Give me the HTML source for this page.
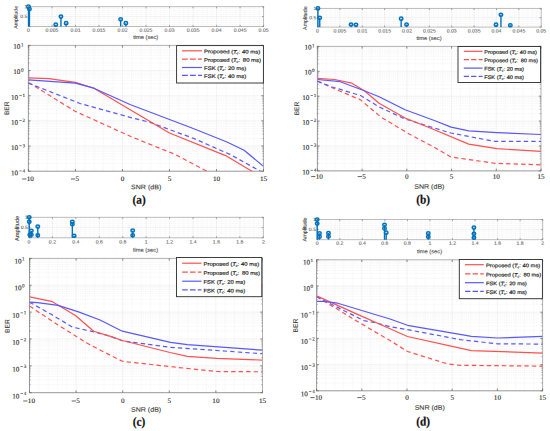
<!DOCTYPE html>
<html><head><meta charset="utf-8"><style>
html,body{margin:0;padding:0;background:#fff;width:550px;height:431px;overflow:hidden;}
svg{display:block;}
</style></head><body>
<svg width="550" height="431" viewBox="0 0 550 431">
<rect width="550" height="431" fill="#fff"/>
<path d="M33.2 6.7L33.2 26.5M37.9 6.7L37.9 26.5M42.61 6.7L42.61 26.5M47.31 6.7L47.31 26.5M56.71 6.7L56.71 26.5M61.41 6.7L61.41 26.5M66.12 6.7L66.12 26.5M70.82 6.7L70.82 26.5M80.22 6.7L80.22 26.5M84.92 6.7L84.92 26.5M89.63 6.7L89.63 26.5M94.33 6.7L94.33 26.5M103.73 6.7L103.73 26.5M108.43 6.7L108.43 26.5M113.14 6.7L113.14 26.5M117.84 6.7L117.84 26.5M127.24 6.7L127.24 26.5M131.94 6.7L131.94 26.5M136.65 6.7L136.65 26.5M141.35 6.7L141.35 26.5M150.75 6.7L150.75 26.5M155.45 6.7L155.45 26.5M160.16 6.7L160.16 26.5M164.86 6.7L164.86 26.5M174.26 6.7L174.26 26.5M178.96 6.7L178.96 26.5M183.67 6.7L183.67 26.5M188.37 6.7L188.37 26.5M197.77 6.7L197.77 26.5M202.47 6.7L202.47 26.5M207.18 6.7L207.18 26.5M211.88 6.7L211.88 26.5M221.28 6.7L221.28 26.5M225.98 6.7L225.98 26.5M230.69 6.7L230.69 26.5M235.39 6.7L235.39 26.5M244.79 6.7L244.79 26.5M249.49 6.7L249.49 26.5M254.2 6.7L254.2 26.5M258.9 6.7L258.9 26.5M28.5 24.52L263.6 24.52M28.5 22.54L263.6 22.54M28.5 20.56L263.6 20.56M28.5 18.58L263.6 18.58M28.5 14.62L263.6 14.62M28.5 12.64L263.6 12.64M28.5 10.66L263.6 10.66M28.5 8.68L263.6 8.68" stroke="#f0f0f0" stroke-width="0.5" fill="none" stroke-dasharray="1.2 0.6"/>
<path d="M52.01 6.7L52.01 26.5M75.52 6.7L75.52 26.5M99.03 6.7L99.03 26.5M122.54 6.7L122.54 26.5M146.05 6.7L146.05 26.5M169.56 6.7L169.56 26.5M193.07 6.7L193.07 26.5M216.58 6.7L216.58 26.5M240.09 6.7L240.09 26.5M28.5 16.6L263.6 16.6" stroke="#e8e8e8" stroke-width="0.6" fill="none" />
<rect x="28.5" y="6.7" width="235.1" height="19.8" fill="none" stroke="#b4b4b4" stroke-width="0.9"/>
<path d="M28.5 26.5L28.5 24.9M28.5 6.7L28.5 8.3M52.01 26.5L52.01 24.9M52.01 6.7L52.01 8.3M75.52 26.5L75.52 24.9M75.52 6.7L75.52 8.3M99.03 26.5L99.03 24.9M99.03 6.7L99.03 8.3M122.54 26.5L122.54 24.9M122.54 6.7L122.54 8.3M146.05 26.5L146.05 24.9M146.05 6.7L146.05 8.3M169.56 26.5L169.56 24.9M169.56 6.7L169.56 8.3M193.07 26.5L193.07 24.9M193.07 6.7L193.07 8.3M216.58 26.5L216.58 24.9M216.58 6.7L216.58 8.3M240.09 26.5L240.09 24.9M240.09 6.7L240.09 8.3M263.6 26.5L263.6 24.9M263.6 6.7L263.6 8.3M28.5 26.5L30.1 26.5M263.6 26.5L262 26.5M28.5 16.6L30.1 16.6M263.6 16.6L262 16.6M28.5 6.7L30.1 6.7M263.6 6.7L262 6.7" stroke="#888" stroke-width="0.8" fill="none" />
<text transform="translate(28.5 31.7) rotate(0.2) scale(1.070 1)" font-family="&quot;Liberation Sans&quot;, sans-serif" font-size="4.8" text-anchor="middle" fill="#505050"  stroke="#505050" stroke-width="0.055999999999999994">0</text>
<text transform="translate(52.01 31.7) rotate(0.2) scale(1.070 1)" font-family="&quot;Liberation Sans&quot;, sans-serif" font-size="4.8" text-anchor="middle" fill="#505050"  stroke="#505050" stroke-width="0.055999999999999994">0.005</text>
<text transform="translate(75.52 31.7) rotate(0.2) scale(1.070 1)" font-family="&quot;Liberation Sans&quot;, sans-serif" font-size="4.8" text-anchor="middle" fill="#505050"  stroke="#505050" stroke-width="0.055999999999999994">0.01</text>
<text transform="translate(99.03 31.7) rotate(0.2) scale(1.070 1)" font-family="&quot;Liberation Sans&quot;, sans-serif" font-size="4.8" text-anchor="middle" fill="#505050"  stroke="#505050" stroke-width="0.055999999999999994">0.015</text>
<text transform="translate(122.54 31.7) rotate(0.2) scale(1.070 1)" font-family="&quot;Liberation Sans&quot;, sans-serif" font-size="4.8" text-anchor="middle" fill="#505050"  stroke="#505050" stroke-width="0.055999999999999994">0.02</text>
<text transform="translate(146.05 31.7) rotate(0.2) scale(1.070 1)" font-family="&quot;Liberation Sans&quot;, sans-serif" font-size="4.8" text-anchor="middle" fill="#505050"  stroke="#505050" stroke-width="0.055999999999999994">0.025</text>
<text transform="translate(169.56 31.7) rotate(0.2) scale(1.070 1)" font-family="&quot;Liberation Sans&quot;, sans-serif" font-size="4.8" text-anchor="middle" fill="#505050"  stroke="#505050" stroke-width="0.055999999999999994">0.03</text>
<text transform="translate(193.07 31.7) rotate(0.2) scale(1.070 1)" font-family="&quot;Liberation Sans&quot;, sans-serif" font-size="4.8" text-anchor="middle" fill="#505050"  stroke="#505050" stroke-width="0.055999999999999994">0.035</text>
<text transform="translate(216.58 31.7) rotate(0.2) scale(1.070 1)" font-family="&quot;Liberation Sans&quot;, sans-serif" font-size="4.8" text-anchor="middle" fill="#505050"  stroke="#505050" stroke-width="0.055999999999999994">0.04</text>
<text transform="translate(240.09 31.7) rotate(0.2) scale(1.070 1)" font-family="&quot;Liberation Sans&quot;, sans-serif" font-size="4.8" text-anchor="middle" fill="#505050"  stroke="#505050" stroke-width="0.055999999999999994">0.045</text>
<text transform="translate(263.6 31.7) rotate(0.2) scale(1.070 1)" font-family="&quot;Liberation Sans&quot;, sans-serif" font-size="4.8" text-anchor="middle" fill="#505050"  stroke="#505050" stroke-width="0.055999999999999994">0.05</text>
<text transform="translate(27.3 18.1) rotate(0.2) scale(1.070 1)" font-family="&quot;Liberation Sans&quot;, sans-serif" font-size="4.8" text-anchor="end" fill="#505050"  stroke="#505050" stroke-width="0.055999999999999994">0.5</text>
<text transform="translate(27.3 8.2) rotate(0.2) scale(1.070 1)" font-family="&quot;Liberation Sans&quot;, sans-serif" font-size="4.8" text-anchor="end" fill="#505050"  stroke="#505050" stroke-width="0.055999999999999994">1</text>
<text transform="translate(145.7 39) rotate(0.2) scale(1.040 1)" font-family="&quot;Liberation Sans&quot;, sans-serif" font-size="5.5" text-anchor="middle" fill="#3a3a3a"  stroke="#3a3a3a" stroke-width="0.08">time (sec)</text>
<text transform="translate(17.6 17.3) rotate(-89.8)" font-family="&quot;Liberation Sans&quot;, sans-serif" font-size="5.1" text-anchor="middle" fill="#3a3a3a"  stroke="#3a3a3a" stroke-width="0.08">Amplitude</text>
<line x1="28.5" y1="26.5" x2="28.5" y2="6.7" stroke="#0072bd" stroke-width="1.4" />
<line x1="29.44" y1="26.5" x2="29.44" y2="9.08" stroke="#0072bd" stroke-width="1.4" />
<line x1="55.77" y1="26.5" x2="55.77" y2="24.72" stroke="#0072bd" stroke-width="1.4" />
<line x1="60.94" y1="26.5" x2="60.94" y2="16.6" stroke="#0072bd" stroke-width="1.4" />
<line x1="66.12" y1="26.5" x2="66.12" y2="23.13" stroke="#0072bd" stroke-width="1.4" />
<line x1="120.66" y1="26.5" x2="120.66" y2="19.37" stroke="#0072bd" stroke-width="1.4" />
<line x1="125.83" y1="26.5" x2="125.83" y2="23.13" stroke="#0072bd" stroke-width="1.4" />
<ellipse cx="28.5" cy="6.7" rx="1.75" ry="1.6" fill="none" stroke="#0072bd" stroke-width="1.5"/>
<ellipse cx="29.44" cy="9.08" rx="1.75" ry="1.6" fill="none" stroke="#0072bd" stroke-width="1.5"/>
<ellipse cx="55.77" cy="24.72" rx="1.75" ry="1.6" fill="none" stroke="#0072bd" stroke-width="1.5"/>
<ellipse cx="60.94" cy="16.6" rx="1.75" ry="1.6" fill="none" stroke="#0072bd" stroke-width="1.5"/>
<ellipse cx="66.12" cy="23.13" rx="1.75" ry="1.6" fill="none" stroke="#0072bd" stroke-width="1.5"/>
<ellipse cx="120.66" cy="19.37" rx="1.75" ry="1.6" fill="none" stroke="#0072bd" stroke-width="1.5"/>
<ellipse cx="125.83" cy="23.13" rx="1.75" ry="1.6" fill="none" stroke="#0072bd" stroke-width="1.5"/>
<path d="M37.8 45.4L37.8 171.2M47.21 45.4L47.21 171.2M56.61 45.4L56.61 171.2M66.02 45.4L66.02 171.2M84.82 45.4L84.82 171.2M94.23 45.4L94.23 171.2M103.63 45.4L103.63 171.2M113.04 45.4L113.04 171.2M131.84 45.4L131.84 171.2M141.25 45.4L141.25 171.2M150.65 45.4L150.65 171.2M160.06 45.4L160.06 171.2M178.86 45.4L178.86 171.2M188.27 45.4L188.27 171.2M197.67 45.4L197.67 171.2M207.08 45.4L207.08 171.2M225.88 45.4L225.88 171.2M235.29 45.4L235.29 171.2M244.69 45.4L244.69 171.2M254.1 45.4L254.1 171.2M28.4 62.99L263.5 62.99M28.4 58.56L263.5 58.56M28.4 55.41L263.5 55.41M28.4 52.97L263.5 52.97M28.4 50.98L263.5 50.98M28.4 49.3L263.5 49.3M28.4 47.84L263.5 47.84M28.4 46.55L263.5 46.55M28.4 88.15L263.5 88.15M28.4 83.72L263.5 83.72M28.4 80.57L263.5 80.57M28.4 78.13L263.5 78.13M28.4 76.14L263.5 76.14M28.4 74.46L263.5 74.46M28.4 73L263.5 73M28.4 71.71L263.5 71.71M28.4 113.31L263.5 113.31M28.4 108.88L263.5 108.88M28.4 105.73L263.5 105.73M28.4 103.29L263.5 103.29M28.4 101.3L263.5 101.3M28.4 99.62L263.5 99.62M28.4 98.16L263.5 98.16M28.4 96.87L263.5 96.87M28.4 138.47L263.5 138.47M28.4 134.04L263.5 134.04M28.4 130.89L263.5 130.89M28.4 128.45L263.5 128.45M28.4 126.46L263.5 126.46M28.4 124.78L263.5 124.78M28.4 123.32L263.5 123.32M28.4 122.03L263.5 122.03M28.4 163.63L263.5 163.63M28.4 159.2L263.5 159.2M28.4 156.05L263.5 156.05M28.4 153.61L263.5 153.61M28.4 151.62L263.5 151.62M28.4 149.94L263.5 149.94M28.4 148.48L263.5 148.48M28.4 147.19L263.5 147.19" stroke="#eeeeee" stroke-width="0.5" fill="none" stroke-dasharray="1.2 0.6"/>
<path d="M75.42 45.4L75.42 171.2M122.44 45.4L122.44 171.2M169.46 45.4L169.46 171.2M216.48 45.4L216.48 171.2M28.4 70.56L263.5 70.56M28.4 95.72L263.5 95.72M28.4 120.88L263.5 120.88M28.4 146.04L263.5 146.04" stroke="#ebebeb" stroke-width="0.6" fill="none" />
<path d="M28.4 45.4L263.5 45.4M263.5 45.4L263.5 171.2" stroke="#a8a8a8" stroke-width="0.9" fill="none" />
<path d="M27.95 171.2L263.95 171.2M28.4 44.95L28.4 171.2" stroke="#8c8c8c" stroke-width="0.9" fill="none" />
<path d="M28.4 171.2L28.4 169M28.4 45.4L28.4 47.6M75.42 171.2L75.42 169M75.42 45.4L75.42 47.6M122.44 171.2L122.44 169M122.44 45.4L122.44 47.6M169.46 171.2L169.46 169M169.46 45.4L169.46 47.6M216.48 171.2L216.48 169M216.48 45.4L216.48 47.6M263.5 171.2L263.5 169M263.5 45.4L263.5 47.6M28.4 45.4L30.6 45.4M263.5 45.4L261.3 45.4M28.4 70.56L30.6 70.56M263.5 70.56L261.3 70.56M28.4 95.72L30.6 95.72M263.5 95.72L261.3 95.72M28.4 120.88L30.6 120.88M263.5 120.88L261.3 120.88M28.4 146.04L30.6 146.04M263.5 146.04L261.3 146.04M28.4 171.2L30.6 171.2M263.5 171.2L261.3 171.2" stroke="#666" stroke-width="0.8" fill="none" />
<path d="M28.4 62.99L29.6 62.99M263.5 62.99L262.3 62.99M28.4 58.56L29.6 58.56M263.5 58.56L262.3 58.56M28.4 55.41L29.6 55.41M263.5 55.41L262.3 55.41M28.4 52.97L29.6 52.97M263.5 52.97L262.3 52.97M28.4 50.98L29.6 50.98M263.5 50.98L262.3 50.98M28.4 49.3L29.6 49.3M263.5 49.3L262.3 49.3M28.4 47.84L29.6 47.84M263.5 47.84L262.3 47.84M28.4 46.55L29.6 46.55M263.5 46.55L262.3 46.55M28.4 88.15L29.6 88.15M263.5 88.15L262.3 88.15M28.4 83.72L29.6 83.72M263.5 83.72L262.3 83.72M28.4 80.57L29.6 80.57M263.5 80.57L262.3 80.57M28.4 78.13L29.6 78.13M263.5 78.13L262.3 78.13M28.4 76.14L29.6 76.14M263.5 76.14L262.3 76.14M28.4 74.46L29.6 74.46M263.5 74.46L262.3 74.46M28.4 73L29.6 73M263.5 73L262.3 73M28.4 71.71L29.6 71.71M263.5 71.71L262.3 71.71M28.4 113.31L29.6 113.31M263.5 113.31L262.3 113.31M28.4 108.88L29.6 108.88M263.5 108.88L262.3 108.88M28.4 105.73L29.6 105.73M263.5 105.73L262.3 105.73M28.4 103.29L29.6 103.29M263.5 103.29L262.3 103.29M28.4 101.3L29.6 101.3M263.5 101.3L262.3 101.3M28.4 99.62L29.6 99.62M263.5 99.62L262.3 99.62M28.4 98.16L29.6 98.16M263.5 98.16L262.3 98.16M28.4 96.87L29.6 96.87M263.5 96.87L262.3 96.87M28.4 138.47L29.6 138.47M263.5 138.47L262.3 138.47M28.4 134.04L29.6 134.04M263.5 134.04L262.3 134.04M28.4 130.89L29.6 130.89M263.5 130.89L262.3 130.89M28.4 128.45L29.6 128.45M263.5 128.45L262.3 128.45M28.4 126.46L29.6 126.46M263.5 126.46L262.3 126.46M28.4 124.78L29.6 124.78M263.5 124.78L262.3 124.78M28.4 123.32L29.6 123.32M263.5 123.32L262.3 123.32M28.4 122.03L29.6 122.03M263.5 122.03L262.3 122.03M28.4 163.63L29.6 163.63M263.5 163.63L262.3 163.63M28.4 159.2L29.6 159.2M263.5 159.2L262.3 159.2M28.4 156.05L29.6 156.05M263.5 156.05L262.3 156.05M28.4 153.61L29.6 153.61M263.5 153.61L262.3 153.61M28.4 151.62L29.6 151.62M263.5 151.62L262.3 151.62M28.4 149.94L29.6 149.94M263.5 149.94L262.3 149.94M28.4 148.48L29.6 148.48M263.5 148.48L262.3 148.48M28.4 147.19L29.6 147.19M263.5 147.19L262.3 147.19" stroke="#777" stroke-width="0.6" fill="none" />
<rect x="22.15" y="178.65" width="4.3" height="0.7" fill="#222"/>
<text transform="translate(26.75 181.1) rotate(0.2) scale(1.060 1)" font-family="&quot;Liberation Serif&quot;, serif" font-size="6.8" text-anchor="start" fill="#222"  stroke="#222" stroke-width="0.1">10</text>
<rect x="70.97" y="178.65" width="4.3" height="0.7" fill="#222"/>
<text transform="translate(75.57 181.1) rotate(0.2) scale(1.060 1)" font-family="&quot;Liberation Serif&quot;, serif" font-size="6.8" text-anchor="start" fill="#222"  stroke="#222" stroke-width="0.1">5</text>
<text transform="translate(122.44 181.1) rotate(0.2) scale(1.060 1)" font-family="&quot;Liberation Serif&quot;, serif" font-size="6.8" text-anchor="middle" fill="#222"  stroke="#222" stroke-width="0.1">0</text>
<text transform="translate(169.46 181.1) rotate(0.2) scale(1.060 1)" font-family="&quot;Liberation Serif&quot;, serif" font-size="6.8" text-anchor="middle" fill="#222"  stroke="#222" stroke-width="0.1">5</text>
<text transform="translate(216.48 181.1) rotate(0.2) scale(1.060 1)" font-family="&quot;Liberation Serif&quot;, serif" font-size="6.8" text-anchor="middle" fill="#222"  stroke="#222" stroke-width="0.1">10</text>
<text transform="translate(263.5 181.1) rotate(0.2) scale(1.060 1)" font-family="&quot;Liberation Serif&quot;, serif" font-size="6.8" text-anchor="middle" fill="#222"  stroke="#222" stroke-width="0.1">15</text>
<text transform="translate(20.4 48.8) rotate(0.2) scale(1.020 1)" font-family="&quot;Liberation Serif&quot;, serif" font-size="7.0" text-anchor="end" fill="#222"  stroke="#222" stroke-width="0.1">10</text>
<text transform="translate(20.9 46.6) rotate(0.2) scale(1.020 1)" font-family="&quot;Liberation Serif&quot;, serif" font-size="5.0" text-anchor="start" fill="#222"  stroke="#222" stroke-width="0.08000000000000002">1</text>
<text transform="translate(20.4 73.96) rotate(0.2) scale(1.020 1)" font-family="&quot;Liberation Serif&quot;, serif" font-size="7.0" text-anchor="end" fill="#222"  stroke="#222" stroke-width="0.1">10</text>
<text transform="translate(20.9 71.76) rotate(0.2) scale(1.020 1)" font-family="&quot;Liberation Serif&quot;, serif" font-size="5.0" text-anchor="start" fill="#222"  stroke="#222" stroke-width="0.08000000000000002">0</text>
<text transform="translate(18.1 99.72) rotate(0.2) scale(1.020 1)" font-family="&quot;Liberation Serif&quot;, serif" font-size="7.0" text-anchor="end" fill="#222"  stroke="#222" stroke-width="0.1">10</text>
<rect x="19.3" y="95.17" width="2.4" height="0.6" fill="#333"/>
<text transform="translate(22.6 96.92) rotate(0.2) scale(1.020 1)" font-family="&quot;Liberation Serif&quot;, serif" font-size="5.0" text-anchor="start" fill="#222"  stroke="#222" stroke-width="0.08000000000000002">1</text>
<text transform="translate(18.1 124.88) rotate(0.2) scale(1.020 1)" font-family="&quot;Liberation Serif&quot;, serif" font-size="7.0" text-anchor="end" fill="#222"  stroke="#222" stroke-width="0.1">10</text>
<rect x="19.3" y="120.33" width="2.4" height="0.6" fill="#333"/>
<text transform="translate(22.6 122.08) rotate(0.2) scale(1.020 1)" font-family="&quot;Liberation Serif&quot;, serif" font-size="5.0" text-anchor="start" fill="#222"  stroke="#222" stroke-width="0.08000000000000002">2</text>
<text transform="translate(18.1 150.04) rotate(0.2) scale(1.020 1)" font-family="&quot;Liberation Serif&quot;, serif" font-size="7.0" text-anchor="end" fill="#222"  stroke="#222" stroke-width="0.1">10</text>
<rect x="19.3" y="145.49" width="2.4" height="0.6" fill="#333"/>
<text transform="translate(22.6 147.24) rotate(0.2) scale(1.020 1)" font-family="&quot;Liberation Serif&quot;, serif" font-size="5.0" text-anchor="start" fill="#222"  stroke="#222" stroke-width="0.08000000000000002">3</text>
<text transform="translate(18.1 175.2) rotate(0.2) scale(1.020 1)" font-family="&quot;Liberation Serif&quot;, serif" font-size="7.0" text-anchor="end" fill="#222"  stroke="#222" stroke-width="0.1">10</text>
<rect x="19.3" y="170.65" width="2.4" height="0.6" fill="#333"/>
<text transform="translate(22.6 172.4) rotate(0.2) scale(1.020 1)" font-family="&quot;Liberation Serif&quot;, serif" font-size="5.0" text-anchor="start" fill="#222"  stroke="#222" stroke-width="0.08000000000000002">4</text>
<text transform="translate(146.15 189.2) rotate(0.2) scale(1.070 1)" font-family="&quot;Liberation Sans&quot;, sans-serif" font-size="6.6" text-anchor="middle" fill="#333"  stroke="#333" stroke-width="0.08">SNR (dB)</text>
<text transform="translate(8.9 108.3) rotate(-89.8)" font-family="&quot;Liberation Sans&quot;, sans-serif" font-size="6.6" text-anchor="middle" fill="#333"  stroke="#333" stroke-width="0.08">BER</text>
<clipPath id="c0"><rect x="28.4" y="45.4" width="235.1" height="125.8"/></clipPath>
<polyline points="28.4,82.4 75,111.2 131.4,136.8 174.6,154.2 207,171.2 212,174" fill="none" stroke="#ff5050" stroke-width="1.2" stroke-linejoin="round" stroke-dasharray="4.4 3.1" clip-path="url(#c0)"/>
<polyline points="28.4,83.1 80,103.5 130,117.3 150,122.4 193.6,138.4 230,154.4 260.4,171.2 265,174" fill="none" stroke="#5858ff" stroke-width="1.2" stroke-linejoin="round" stroke-dasharray="4.4 3.1" clip-path="url(#c0)"/>
<polyline points="28.4,77.8 48.9,78.6 75.3,82.4 93.9,88.2 169.5,133 225.6,155.6 251.9,171.2 260,176" fill="none" stroke="#ff5050" stroke-width="1.2" stroke-linejoin="round" clip-path="url(#c0)"/>
<polyline points="28.4,79.9 75.3,83.1 93.9,88.2 130,104.5 190,127.3 226.4,141.7 244.1,150.2 263.5,166.4" fill="none" stroke="#5858ff" stroke-width="1.2" stroke-linejoin="round" clip-path="url(#c0)"/>
<rect x="176.6" y="45.6" width="86.8" height="37.4" fill="#fff" stroke="#2a2a2a" stroke-width="0.9"/>
<line x1="182" y1="50.8" x2="202" y2="50.8" stroke="#ff5050" stroke-width="1.2" />
<text transform="translate(204 53.3) rotate(0.2) scale(1.150 1)" font-family="&quot;Liberation Sans&quot;, sans-serif" font-size="5.2" text-anchor="start" fill="#111"  stroke="#111" stroke-width="0.15">Proposed (<tspan font-family="&quot;Liberation Serif&quot;, serif" font-style="italic">T</tspan><tspan font-family="&quot;Liberation Serif&quot;, serif" font-style="italic" font-size="3.64" dy="0.9">c</tspan><tspan dy="-0.9">:</tspan><tspan dx="1.6">40 ms)</tspan></text>
<line x1="182" y1="59.2" x2="202" y2="59.2" stroke="#ff5050" stroke-width="1.2" stroke-dasharray="5.8 2.2"/>
<text transform="translate(204 61.7) rotate(0.2) scale(1.150 1)" font-family="&quot;Liberation Sans&quot;, sans-serif" font-size="5.2" text-anchor="start" fill="#111"  stroke="#111" stroke-width="0.15">Proposed (<tspan font-family="&quot;Liberation Serif&quot;, serif" font-style="italic">T</tspan><tspan font-family="&quot;Liberation Serif&quot;, serif" font-style="italic" font-size="3.64" dy="0.9">c</tspan><tspan dy="-0.9">:</tspan><tspan dx="2.4000000000000004">80 ms)</tspan></text>
<line x1="182" y1="67.5" x2="202" y2="67.5" stroke="#5858ff" stroke-width="1.2" />
<text transform="translate(204 70) rotate(0.2) scale(1.150 1)" font-family="&quot;Liberation Sans&quot;, sans-serif" font-size="5.2" text-anchor="start" fill="#111"  stroke="#111" stroke-width="0.15">FSK (<tspan font-family="&quot;Liberation Serif&quot;, serif" font-style="italic">T</tspan><tspan font-family="&quot;Liberation Serif&quot;, serif" font-style="italic" font-size="3.64" dy="0.9">c</tspan><tspan dy="-0.9">:</tspan><tspan dx="1.6">20 ms)</tspan></text>
<line x1="182" y1="75.4" x2="202" y2="75.4" stroke="#5858ff" stroke-width="1.2" stroke-dasharray="5.8 2.2"/>
<text transform="translate(204 77.9) rotate(0.2) scale(1.150 1)" font-family="&quot;Liberation Sans&quot;, sans-serif" font-size="5.2" text-anchor="start" fill="#111"  stroke="#111" stroke-width="0.15">FSK (<tspan font-family="&quot;Liberation Serif&quot;, serif" font-style="italic">T</tspan><tspan font-family="&quot;Liberation Serif&quot;, serif" font-style="italic" font-size="3.64" dy="0.9">c</tspan><tspan dy="-0.9">:</tspan><tspan dx="1.6">40 ms)</tspan></text>
<text transform="translate(139.1 203.7) rotate(0.2) scale(0.900 1)" font-family="&quot;Liberation Serif&quot;, serif" font-size="12.5" text-anchor="middle" fill="#111" font-weight="bold" stroke="#111" stroke-width="0.2">(a)</text>
<path d="M321.97 8.4L321.97 27.1M326.45 8.4L326.45 27.1M330.92 8.4L330.92 27.1M335.4 8.4L335.4 27.1M344.34 8.4L344.34 27.1M348.82 8.4L348.82 27.1M353.29 8.4L353.29 27.1M357.77 8.4L357.77 27.1M366.71 8.4L366.71 27.1M371.19 8.4L371.19 27.1M375.66 8.4L375.66 27.1M380.14 8.4L380.14 27.1M389.08 8.4L389.08 27.1M393.56 8.4L393.56 27.1M398.03 8.4L398.03 27.1M402.51 8.4L402.51 27.1M411.45 8.4L411.45 27.1M415.93 8.4L415.93 27.1M420.4 8.4L420.4 27.1M424.88 8.4L424.88 27.1M433.82 8.4L433.82 27.1M438.3 8.4L438.3 27.1M442.77 8.4L442.77 27.1M447.25 8.4L447.25 27.1M456.19 8.4L456.19 27.1M460.67 8.4L460.67 27.1M465.14 8.4L465.14 27.1M469.62 8.4L469.62 27.1M478.56 8.4L478.56 27.1M483.04 8.4L483.04 27.1M487.51 8.4L487.51 27.1M491.99 8.4L491.99 27.1M500.93 8.4L500.93 27.1M505.41 8.4L505.41 27.1M509.88 8.4L509.88 27.1M514.36 8.4L514.36 27.1M523.3 8.4L523.3 27.1M527.78 8.4L527.78 27.1M532.25 8.4L532.25 27.1M536.73 8.4L536.73 27.1M317.5 25.23L541.2 25.23M317.5 23.36L541.2 23.36M317.5 21.49L541.2 21.49M317.5 19.62L541.2 19.62M317.5 15.88L541.2 15.88M317.5 14.01L541.2 14.01M317.5 12.14L541.2 12.14M317.5 10.27L541.2 10.27" stroke="#f0f0f0" stroke-width="0.5" fill="none" stroke-dasharray="1.2 0.6"/>
<path d="M339.87 8.4L339.87 27.1M362.24 8.4L362.24 27.1M384.61 8.4L384.61 27.1M406.98 8.4L406.98 27.1M429.35 8.4L429.35 27.1M451.72 8.4L451.72 27.1M474.09 8.4L474.09 27.1M496.46 8.4L496.46 27.1M518.83 8.4L518.83 27.1M317.5 17.75L541.2 17.75" stroke="#e8e8e8" stroke-width="0.6" fill="none" />
<rect x="317.5" y="8.4" width="223.7" height="18.7" fill="none" stroke="#b4b4b4" stroke-width="0.9"/>
<path d="M317.5 27.1L317.5 25.5M317.5 8.4L317.5 10M339.87 27.1L339.87 25.5M339.87 8.4L339.87 10M362.24 27.1L362.24 25.5M362.24 8.4L362.24 10M384.61 27.1L384.61 25.5M384.61 8.4L384.61 10M406.98 27.1L406.98 25.5M406.98 8.4L406.98 10M429.35 27.1L429.35 25.5M429.35 8.4L429.35 10M451.72 27.1L451.72 25.5M451.72 8.4L451.72 10M474.09 27.1L474.09 25.5M474.09 8.4L474.09 10M496.46 27.1L496.46 25.5M496.46 8.4L496.46 10M518.83 27.1L518.83 25.5M518.83 8.4L518.83 10M541.2 27.1L541.2 25.5M541.2 8.4L541.2 10M317.5 27.1L319.1 27.1M541.2 27.1L539.6 27.1M317.5 17.75L319.1 17.75M541.2 17.75L539.6 17.75M317.5 8.4L319.1 8.4M541.2 8.4L539.6 8.4" stroke="#888" stroke-width="0.8" fill="none" />
<text transform="translate(317.5 32.5) rotate(0.2) scale(1.070 1)" font-family="&quot;Liberation Sans&quot;, sans-serif" font-size="4.8" text-anchor="middle" fill="#505050"  stroke="#505050" stroke-width="0.055999999999999994">0</text>
<text transform="translate(339.87 32.5) rotate(0.2) scale(1.070 1)" font-family="&quot;Liberation Sans&quot;, sans-serif" font-size="4.8" text-anchor="middle" fill="#505050"  stroke="#505050" stroke-width="0.055999999999999994">0.005</text>
<text transform="translate(362.24 32.5) rotate(0.2) scale(1.070 1)" font-family="&quot;Liberation Sans&quot;, sans-serif" font-size="4.8" text-anchor="middle" fill="#505050"  stroke="#505050" stroke-width="0.055999999999999994">0.01</text>
<text transform="translate(384.61 32.5) rotate(0.2) scale(1.070 1)" font-family="&quot;Liberation Sans&quot;, sans-serif" font-size="4.8" text-anchor="middle" fill="#505050"  stroke="#505050" stroke-width="0.055999999999999994">0.015</text>
<text transform="translate(406.98 32.5) rotate(0.2) scale(1.070 1)" font-family="&quot;Liberation Sans&quot;, sans-serif" font-size="4.8" text-anchor="middle" fill="#505050"  stroke="#505050" stroke-width="0.055999999999999994">0.02</text>
<text transform="translate(429.35 32.5) rotate(0.2) scale(1.070 1)" font-family="&quot;Liberation Sans&quot;, sans-serif" font-size="4.8" text-anchor="middle" fill="#505050"  stroke="#505050" stroke-width="0.055999999999999994">0.025</text>
<text transform="translate(451.72 32.5) rotate(0.2) scale(1.070 1)" font-family="&quot;Liberation Sans&quot;, sans-serif" font-size="4.8" text-anchor="middle" fill="#505050"  stroke="#505050" stroke-width="0.055999999999999994">0.03</text>
<text transform="translate(474.09 32.5) rotate(0.2) scale(1.070 1)" font-family="&quot;Liberation Sans&quot;, sans-serif" font-size="4.8" text-anchor="middle" fill="#505050"  stroke="#505050" stroke-width="0.055999999999999994">0.035</text>
<text transform="translate(496.46 32.5) rotate(0.2) scale(1.070 1)" font-family="&quot;Liberation Sans&quot;, sans-serif" font-size="4.8" text-anchor="middle" fill="#505050"  stroke="#505050" stroke-width="0.055999999999999994">0.04</text>
<text transform="translate(518.83 32.5) rotate(0.2) scale(1.070 1)" font-family="&quot;Liberation Sans&quot;, sans-serif" font-size="4.8" text-anchor="middle" fill="#505050"  stroke="#505050" stroke-width="0.055999999999999994">0.045</text>
<text transform="translate(541.2 32.5) rotate(0.2) scale(1.070 1)" font-family="&quot;Liberation Sans&quot;, sans-serif" font-size="4.8" text-anchor="middle" fill="#505050"  stroke="#505050" stroke-width="0.055999999999999994">0.05</text>
<text transform="translate(316.3 19.25) rotate(0.2) scale(1.070 1)" font-family="&quot;Liberation Sans&quot;, sans-serif" font-size="4.8" text-anchor="end" fill="#505050"  stroke="#505050" stroke-width="0.055999999999999994">0.5</text>
<text transform="translate(316.3 9.9) rotate(0.2) scale(1.070 1)" font-family="&quot;Liberation Sans&quot;, sans-serif" font-size="4.8" text-anchor="end" fill="#505050"  stroke="#505050" stroke-width="0.055999999999999994">1</text>
<text transform="translate(429 40) rotate(0.2) scale(1.040 1)" font-family="&quot;Liberation Sans&quot;, sans-serif" font-size="5.5" text-anchor="middle" fill="#3a3a3a"  stroke="#3a3a3a" stroke-width="0.08">time (sec)</text>
<text transform="translate(306.9 18.1) rotate(-89.8)" font-family="&quot;Liberation Sans&quot;, sans-serif" font-size="5.3" text-anchor="middle" fill="#3a3a3a"  stroke="#3a3a3a" stroke-width="0.08">Amplitude</text>
<line x1="317.95" y1="27.1" x2="317.95" y2="8.4" stroke="#0072bd" stroke-width="1.4" />
<line x1="319.74" y1="27.1" x2="319.74" y2="17.75" stroke="#0072bd" stroke-width="1.4" />
<line x1="351.06" y1="27.1" x2="351.06" y2="24.48" stroke="#0072bd" stroke-width="1.4" />
<line x1="355.98" y1="27.1" x2="355.98" y2="24.86" stroke="#0072bd" stroke-width="1.4" />
<line x1="401.16" y1="27.1" x2="401.16" y2="18.69" stroke="#0072bd" stroke-width="1.4" />
<line x1="406.53" y1="27.1" x2="406.53" y2="24.48" stroke="#0072bd" stroke-width="1.4" />
<line x1="496.01" y1="27.1" x2="496.01" y2="24.67" stroke="#0072bd" stroke-width="1.4" />
<line x1="500.93" y1="27.1" x2="500.93" y2="14.76" stroke="#0072bd" stroke-width="1.4" />
<line x1="510.33" y1="27.1" x2="510.33" y2="25.23" stroke="#0072bd" stroke-width="1.4" />
<ellipse cx="317.95" cy="8.4" rx="1.75" ry="1.6" fill="none" stroke="#0072bd" stroke-width="1.5"/>
<ellipse cx="319.74" cy="17.75" rx="1.75" ry="1.6" fill="none" stroke="#0072bd" stroke-width="1.5"/>
<ellipse cx="351.06" cy="24.48" rx="1.75" ry="1.6" fill="none" stroke="#0072bd" stroke-width="1.5"/>
<ellipse cx="355.98" cy="24.86" rx="1.75" ry="1.6" fill="none" stroke="#0072bd" stroke-width="1.5"/>
<ellipse cx="401.16" cy="18.69" rx="1.75" ry="1.6" fill="none" stroke="#0072bd" stroke-width="1.5"/>
<ellipse cx="406.53" cy="24.48" rx="1.75" ry="1.6" fill="none" stroke="#0072bd" stroke-width="1.5"/>
<ellipse cx="496.01" cy="24.67" rx="1.75" ry="1.6" fill="none" stroke="#0072bd" stroke-width="1.5"/>
<ellipse cx="500.93" cy="14.76" rx="1.75" ry="1.6" fill="none" stroke="#0072bd" stroke-width="1.5"/>
<ellipse cx="510.33" cy="25.23" rx="1.75" ry="1.6" fill="none" stroke="#0072bd" stroke-width="1.5"/>
<path d="M326.34 46.4L326.34 170.9M335.29 46.4L335.29 170.9M344.23 46.4L344.23 170.9M353.18 46.4L353.18 170.9M371.06 46.4L371.06 170.9M380.01 46.4L380.01 170.9M388.95 46.4L388.95 170.9M397.9 46.4L397.9 170.9M415.78 46.4L415.78 170.9M424.73 46.4L424.73 170.9M433.67 46.4L433.67 170.9M442.62 46.4L442.62 170.9M460.5 46.4L460.5 170.9M469.45 46.4L469.45 170.9M478.39 46.4L478.39 170.9M487.34 46.4L487.34 170.9M505.22 46.4L505.22 170.9M514.17 46.4L514.17 170.9M523.11 46.4L523.11 170.9M532.06 46.4L532.06 170.9M317.4 63.8L541 63.8M317.4 59.42L541 59.42M317.4 56.31L541 56.31M317.4 53.9L541 53.9M317.4 51.92L541 51.92M317.4 50.26L541 50.26M317.4 48.81L541 48.81M317.4 47.54L541 47.54M317.4 88.7L541 88.7M317.4 84.32L541 84.32M317.4 81.21L541 81.21M317.4 78.8L541 78.8M317.4 76.82L541 76.82M317.4 75.16L541 75.16M317.4 73.71L541 73.71M317.4 72.44L541 72.44M317.4 113.6L541 113.6M317.4 109.22L541 109.22M317.4 106.11L541 106.11M317.4 103.7L541 103.7M317.4 101.72L541 101.72M317.4 100.06L541 100.06M317.4 98.61L541 98.61M317.4 97.34L541 97.34M317.4 138.5L541 138.5M317.4 134.12L541 134.12M317.4 131.01L541 131.01M317.4 128.6L541 128.6M317.4 126.62L541 126.62M317.4 124.96L541 124.96M317.4 123.51L541 123.51M317.4 122.24L541 122.24M317.4 163.4L541 163.4M317.4 159.02L541 159.02M317.4 155.91L541 155.91M317.4 153.5L541 153.5M317.4 151.52L541 151.52M317.4 149.86L541 149.86M317.4 148.41L541 148.41M317.4 147.14L541 147.14" stroke="#eeeeee" stroke-width="0.5" fill="none" stroke-dasharray="1.2 0.6"/>
<path d="M362.12 46.4L362.12 170.9M406.84 46.4L406.84 170.9M451.56 46.4L451.56 170.9M496.28 46.4L496.28 170.9M317.4 71.3L541 71.3M317.4 96.2L541 96.2M317.4 121.1L541 121.1M317.4 146L541 146" stroke="#ebebeb" stroke-width="0.6" fill="none" />
<path d="M317.4 46.4L541 46.4M541 46.4L541 170.9" stroke="#a8a8a8" stroke-width="0.9" fill="none" />
<path d="M316.95 170.9L541.45 170.9M317.4 45.95L317.4 170.9" stroke="#8c8c8c" stroke-width="0.9" fill="none" />
<path d="M317.4 170.9L317.4 168.7M317.4 46.4L317.4 48.6M362.12 170.9L362.12 168.7M362.12 46.4L362.12 48.6M406.84 170.9L406.84 168.7M406.84 46.4L406.84 48.6M451.56 170.9L451.56 168.7M451.56 46.4L451.56 48.6M496.28 170.9L496.28 168.7M496.28 46.4L496.28 48.6M541 170.9L541 168.7M541 46.4L541 48.6M317.4 46.4L319.6 46.4M541 46.4L538.8 46.4M317.4 71.3L319.6 71.3M541 71.3L538.8 71.3M317.4 96.2L319.6 96.2M541 96.2L538.8 96.2M317.4 121.1L319.6 121.1M541 121.1L538.8 121.1M317.4 146L319.6 146M541 146L538.8 146M317.4 170.9L319.6 170.9M541 170.9L538.8 170.9" stroke="#666" stroke-width="0.8" fill="none" />
<path d="M317.4 63.8L318.6 63.8M541 63.8L539.8 63.8M317.4 59.42L318.6 59.42M541 59.42L539.8 59.42M317.4 56.31L318.6 56.31M541 56.31L539.8 56.31M317.4 53.9L318.6 53.9M541 53.9L539.8 53.9M317.4 51.92L318.6 51.92M541 51.92L539.8 51.92M317.4 50.26L318.6 50.26M541 50.26L539.8 50.26M317.4 48.81L318.6 48.81M541 48.81L539.8 48.81M317.4 47.54L318.6 47.54M541 47.54L539.8 47.54M317.4 88.7L318.6 88.7M541 88.7L539.8 88.7M317.4 84.32L318.6 84.32M541 84.32L539.8 84.32M317.4 81.21L318.6 81.21M541 81.21L539.8 81.21M317.4 78.8L318.6 78.8M541 78.8L539.8 78.8M317.4 76.82L318.6 76.82M541 76.82L539.8 76.82M317.4 75.16L318.6 75.16M541 75.16L539.8 75.16M317.4 73.71L318.6 73.71M541 73.71L539.8 73.71M317.4 72.44L318.6 72.44M541 72.44L539.8 72.44M317.4 113.6L318.6 113.6M541 113.6L539.8 113.6M317.4 109.22L318.6 109.22M541 109.22L539.8 109.22M317.4 106.11L318.6 106.11M541 106.11L539.8 106.11M317.4 103.7L318.6 103.7M541 103.7L539.8 103.7M317.4 101.72L318.6 101.72M541 101.72L539.8 101.72M317.4 100.06L318.6 100.06M541 100.06L539.8 100.06M317.4 98.61L318.6 98.61M541 98.61L539.8 98.61M317.4 97.34L318.6 97.34M541 97.34L539.8 97.34M317.4 138.5L318.6 138.5M541 138.5L539.8 138.5M317.4 134.12L318.6 134.12M541 134.12L539.8 134.12M317.4 131.01L318.6 131.01M541 131.01L539.8 131.01M317.4 128.6L318.6 128.6M541 128.6L539.8 128.6M317.4 126.62L318.6 126.62M541 126.62L539.8 126.62M317.4 124.96L318.6 124.96M541 124.96L539.8 124.96M317.4 123.51L318.6 123.51M541 123.51L539.8 123.51M317.4 122.24L318.6 122.24M541 122.24L539.8 122.24M317.4 163.4L318.6 163.4M541 163.4L539.8 163.4M317.4 159.02L318.6 159.02M541 159.02L539.8 159.02M317.4 155.91L318.6 155.91M541 155.91L539.8 155.91M317.4 153.5L318.6 153.5M541 153.5L539.8 153.5M317.4 151.52L318.6 151.52M541 151.52L539.8 151.52M317.4 149.86L318.6 149.86M541 149.86L539.8 149.86M317.4 148.41L318.6 148.41M541 148.41L539.8 148.41M317.4 147.14L318.6 147.14M541 147.14L539.8 147.14" stroke="#777" stroke-width="0.6" fill="none" />
<rect x="311.15" y="176.35" width="4.3" height="0.7" fill="#222"/>
<text transform="translate(315.75 178.8) rotate(0.2) scale(1.060 1)" font-family="&quot;Liberation Serif&quot;, serif" font-size="6.8" text-anchor="start" fill="#222"  stroke="#222" stroke-width="0.1">10</text>
<rect x="357.67" y="176.35" width="4.3" height="0.7" fill="#222"/>
<text transform="translate(362.27 178.8) rotate(0.2) scale(1.060 1)" font-family="&quot;Liberation Serif&quot;, serif" font-size="6.8" text-anchor="start" fill="#222"  stroke="#222" stroke-width="0.1">5</text>
<text transform="translate(406.84 178.8) rotate(0.2) scale(1.060 1)" font-family="&quot;Liberation Serif&quot;, serif" font-size="6.8" text-anchor="middle" fill="#222"  stroke="#222" stroke-width="0.1">0</text>
<text transform="translate(451.56 178.8) rotate(0.2) scale(1.060 1)" font-family="&quot;Liberation Serif&quot;, serif" font-size="6.8" text-anchor="middle" fill="#222"  stroke="#222" stroke-width="0.1">5</text>
<text transform="translate(496.28 178.8) rotate(0.2) scale(1.060 1)" font-family="&quot;Liberation Serif&quot;, serif" font-size="6.8" text-anchor="middle" fill="#222"  stroke="#222" stroke-width="0.1">10</text>
<text transform="translate(541 178.8) rotate(0.2) scale(1.060 1)" font-family="&quot;Liberation Serif&quot;, serif" font-size="6.8" text-anchor="middle" fill="#222"  stroke="#222" stroke-width="0.1">15</text>
<text transform="translate(311.6 49.5) rotate(0.2) scale(1.020 1)" font-family="&quot;Liberation Serif&quot;, serif" font-size="7.0" text-anchor="end" fill="#222"  stroke="#222" stroke-width="0.1">10</text>
<text transform="translate(312.1 47.2) rotate(0.2) scale(1.020 1)" font-family="&quot;Liberation Serif&quot;, serif" font-size="5.0" text-anchor="start" fill="#222"  stroke="#222" stroke-width="0.08000000000000002">1</text>
<text transform="translate(311.6 74.4) rotate(0.2) scale(1.020 1)" font-family="&quot;Liberation Serif&quot;, serif" font-size="7.0" text-anchor="end" fill="#222"  stroke="#222" stroke-width="0.1">10</text>
<text transform="translate(312.1 72.1) rotate(0.2) scale(1.020 1)" font-family="&quot;Liberation Serif&quot;, serif" font-size="5.0" text-anchor="start" fill="#222"  stroke="#222" stroke-width="0.08000000000000002">0</text>
<text transform="translate(309.3 99.9) rotate(0.2) scale(1.020 1)" font-family="&quot;Liberation Serif&quot;, serif" font-size="7.0" text-anchor="end" fill="#222"  stroke="#222" stroke-width="0.1">10</text>
<rect x="310.5" y="95.25" width="2.4" height="0.6" fill="#333"/>
<text transform="translate(313.8 97) rotate(0.2) scale(1.020 1)" font-family="&quot;Liberation Serif&quot;, serif" font-size="5.0" text-anchor="start" fill="#222"  stroke="#222" stroke-width="0.08000000000000002">1</text>
<text transform="translate(309.3 124.8) rotate(0.2) scale(1.020 1)" font-family="&quot;Liberation Serif&quot;, serif" font-size="7.0" text-anchor="end" fill="#222"  stroke="#222" stroke-width="0.1">10</text>
<rect x="310.5" y="120.15" width="2.4" height="0.6" fill="#333"/>
<text transform="translate(313.8 121.9) rotate(0.2) scale(1.020 1)" font-family="&quot;Liberation Serif&quot;, serif" font-size="5.0" text-anchor="start" fill="#222"  stroke="#222" stroke-width="0.08000000000000002">2</text>
<text transform="translate(309.3 149.7) rotate(0.2) scale(1.020 1)" font-family="&quot;Liberation Serif&quot;, serif" font-size="7.0" text-anchor="end" fill="#222"  stroke="#222" stroke-width="0.1">10</text>
<rect x="310.5" y="145.05" width="2.4" height="0.6" fill="#333"/>
<text transform="translate(313.8 146.8) rotate(0.2) scale(1.020 1)" font-family="&quot;Liberation Serif&quot;, serif" font-size="5.0" text-anchor="start" fill="#222"  stroke="#222" stroke-width="0.08000000000000002">3</text>
<text transform="translate(309.3 174.6) rotate(0.2) scale(1.020 1)" font-family="&quot;Liberation Serif&quot;, serif" font-size="7.0" text-anchor="end" fill="#222"  stroke="#222" stroke-width="0.1">10</text>
<rect x="310.5" y="169.95" width="2.4" height="0.6" fill="#333"/>
<text transform="translate(313.8 171.7) rotate(0.2) scale(1.020 1)" font-family="&quot;Liberation Serif&quot;, serif" font-size="5.0" text-anchor="start" fill="#222"  stroke="#222" stroke-width="0.08000000000000002">4</text>
<text transform="translate(429.35 188.7) rotate(0.2) scale(1.070 1)" font-family="&quot;Liberation Sans&quot;, sans-serif" font-size="6.6" text-anchor="middle" fill="#333"  stroke="#333" stroke-width="0.08">SNR (dB)</text>
<text transform="translate(298.9 108.5) rotate(-89.8)" font-family="&quot;Liberation Sans&quot;, sans-serif" font-size="6.6" text-anchor="middle" fill="#333"  stroke="#333" stroke-width="0.08">BER</text>
<clipPath id="c1"><rect x="317.4" y="46.4" width="223.6" height="124.5"/></clipPath>
<polyline points="317.4,81 331.5,87.5 360.6,99.9 381,117.1 408.8,133.8 435,147.7 450.9,157 494.8,163.3 541,164.8" fill="none" stroke="#ff5050" stroke-width="1.2" stroke-linejoin="round" stroke-dasharray="4.4 3.1" clip-path="url(#c1)"/>
<polyline points="317.4,81.3 331.5,86.8 360.6,95.5 379.1,106.9 405.1,119 430,126.7 450.9,133 494.8,141.4 541,141.4" fill="none" stroke="#5858ff" stroke-width="1.2" stroke-linejoin="round" stroke-dasharray="4.4 3.1" clip-path="url(#c1)"/>
<polyline points="317.4,78.4 334.5,79.5 351.9,83.2 364.3,90.8 379.1,103.2 405.1,118 432,128.8 468.7,144.1 496.9,148.7 541,151.4" fill="none" stroke="#ff5050" stroke-width="1.2" stroke-linejoin="round" clip-path="url(#c1)"/>
<polyline points="317.4,79.5 340.3,81.7 364.3,90.8 379.1,96.7 405.1,109.7 435,120.8 451.1,127.1 468.7,130.9 496.9,132.6 541,134.5" fill="none" stroke="#5858ff" stroke-width="1.2" stroke-linejoin="round" clip-path="url(#c1)"/>
<rect x="458" y="46.5" width="82.6" height="36" fill="#fff" stroke="#2a2a2a" stroke-width="0.9"/>
<line x1="463.8" y1="51.3" x2="482.6" y2="51.3" stroke="#ff5050" stroke-width="1.2" />
<text transform="translate(484.2 53.8) rotate(0.2) scale(1.080 1)" font-family="&quot;Liberation Sans&quot;, sans-serif" font-size="5.2" text-anchor="start" fill="#111"  stroke="#111" stroke-width="0.15">Proposed (<tspan font-family="&quot;Liberation Serif&quot;, serif" font-style="italic">T</tspan><tspan font-family="&quot;Liberation Serif&quot;, serif" font-style="italic" font-size="3.64" dy="0.9">c</tspan><tspan dy="-0.9">:</tspan><tspan dx="1.6">40 ms)</tspan></text>
<line x1="463.8" y1="59.6" x2="482.6" y2="59.6" stroke="#ff5050" stroke-width="1.2" stroke-dasharray="5.2 2.2"/>
<text transform="translate(484.2 62.1) rotate(0.2) scale(1.080 1)" font-family="&quot;Liberation Sans&quot;, sans-serif" font-size="5.2" text-anchor="start" fill="#111"  stroke="#111" stroke-width="0.15">Proposed (<tspan font-family="&quot;Liberation Serif&quot;, serif" font-style="italic">T</tspan><tspan font-family="&quot;Liberation Serif&quot;, serif" font-style="italic" font-size="3.64" dy="0.9">c</tspan><tspan dy="-0.9">:</tspan><tspan dx="2.4000000000000004">80 ms)</tspan></text>
<line x1="463.8" y1="68.1" x2="482.6" y2="68.1" stroke="#5858ff" stroke-width="1.2" />
<text transform="translate(484.2 70.6) rotate(0.2) scale(1.080 1)" font-family="&quot;Liberation Sans&quot;, sans-serif" font-size="5.2" text-anchor="start" fill="#111"  stroke="#111" stroke-width="0.15">FSK (<tspan font-family="&quot;Liberation Serif&quot;, serif" font-style="italic">T</tspan><tspan font-family="&quot;Liberation Serif&quot;, serif" font-style="italic" font-size="3.64" dy="0.9">c</tspan><tspan dy="-0.9">:</tspan><tspan dx="1.6">20 ms)</tspan></text>
<line x1="463.8" y1="76.4" x2="482.6" y2="76.4" stroke="#5858ff" stroke-width="1.2" stroke-dasharray="5.2 2.2"/>
<text transform="translate(484.2 78.9) rotate(0.2) scale(1.080 1)" font-family="&quot;Liberation Sans&quot;, sans-serif" font-size="5.2" text-anchor="start" fill="#111"  stroke="#111" stroke-width="0.15">FSK (<tspan font-family="&quot;Liberation Serif&quot;, serif" font-style="italic">T</tspan><tspan font-family="&quot;Liberation Serif&quot;, serif" font-style="italic" font-size="3.64" dy="0.9">c</tspan><tspan dy="-0.9">:</tspan><tspan dx="1.6">40 ms)</tspan></text>
<text transform="translate(423.2 203.6) rotate(0.2) scale(0.900 1)" font-family="&quot;Liberation Serif&quot;, serif" font-size="12.5" text-anchor="middle" fill="#111" font-weight="bold" stroke="#111" stroke-width="0.2">(b)</text>
<path d="M33.69 217.3L33.69 237.8M38.37 217.3L38.37 237.8M43.06 217.3L43.06 237.8M47.74 217.3L47.74 237.8M57.12 217.3L57.12 237.8M61.8 217.3L61.8 237.8M66.49 217.3L66.49 237.8M71.17 217.3L71.17 237.8M80.55 217.3L80.55 237.8M85.23 217.3L85.23 237.8M89.92 217.3L89.92 237.8M94.6 217.3L94.6 237.8M103.98 217.3L103.98 237.8M108.66 217.3L108.66 237.8M113.35 217.3L113.35 237.8M118.03 217.3L118.03 237.8M127.41 217.3L127.41 237.8M132.09 217.3L132.09 237.8M136.78 217.3L136.78 237.8M141.46 217.3L141.46 237.8M150.84 217.3L150.84 237.8M155.52 217.3L155.52 237.8M160.21 217.3L160.21 237.8M164.89 217.3L164.89 237.8M174.27 217.3L174.27 237.8M178.95 217.3L178.95 237.8M183.64 217.3L183.64 237.8M188.32 217.3L188.32 237.8M197.7 217.3L197.7 237.8M202.38 217.3L202.38 237.8M207.07 217.3L207.07 237.8M211.75 217.3L211.75 237.8M221.13 217.3L221.13 237.8M225.81 217.3L225.81 237.8M230.5 217.3L230.5 237.8M235.18 217.3L235.18 237.8M244.56 217.3L244.56 237.8M249.24 217.3L249.24 237.8M253.93 217.3L253.93 237.8M258.61 217.3L258.61 237.8M29 235.75L263.3 235.75M29 233.7L263.3 233.7M29 231.65L263.3 231.65M29 229.6L263.3 229.6M29 225.5L263.3 225.5M29 223.45L263.3 223.45M29 221.4L263.3 221.4M29 219.35L263.3 219.35" stroke="#f0f0f0" stroke-width="0.5" fill="none" stroke-dasharray="1.2 0.6"/>
<path d="M52.43 217.3L52.43 237.8M75.86 217.3L75.86 237.8M99.29 217.3L99.29 237.8M122.72 217.3L122.72 237.8M146.15 217.3L146.15 237.8M169.58 217.3L169.58 237.8M193.01 217.3L193.01 237.8M216.44 217.3L216.44 237.8M239.87 217.3L239.87 237.8M29 227.55L263.3 227.55" stroke="#e8e8e8" stroke-width="0.6" fill="none" />
<rect x="29" y="217.3" width="234.3" height="20.5" fill="none" stroke="#b4b4b4" stroke-width="0.9"/>
<path d="M29 237.8L29 236.2M29 217.3L29 218.9M52.43 237.8L52.43 236.2M52.43 217.3L52.43 218.9M75.86 237.8L75.86 236.2M75.86 217.3L75.86 218.9M99.29 237.8L99.29 236.2M99.29 217.3L99.29 218.9M122.72 237.8L122.72 236.2M122.72 217.3L122.72 218.9M146.15 237.8L146.15 236.2M146.15 217.3L146.15 218.9M169.58 237.8L169.58 236.2M169.58 217.3L169.58 218.9M193.01 237.8L193.01 236.2M193.01 217.3L193.01 218.9M216.44 237.8L216.44 236.2M216.44 217.3L216.44 218.9M239.87 237.8L239.87 236.2M239.87 217.3L239.87 218.9M263.3 237.8L263.3 236.2M263.3 217.3L263.3 218.9M29 237.8L30.6 237.8M263.3 237.8L261.7 237.8M29 227.55L30.6 227.55M263.3 227.55L261.7 227.55M29 217.3L30.6 217.3M263.3 217.3L261.7 217.3" stroke="#888" stroke-width="0.8" fill="none" />
<text transform="translate(29 243.4) rotate(0.2) scale(1.070 1)" font-family="&quot;Liberation Sans&quot;, sans-serif" font-size="4.8" text-anchor="middle" fill="#505050"  stroke="#505050" stroke-width="0.055999999999999994">0</text>
<text transform="translate(52.43 243.4) rotate(0.2) scale(1.070 1)" font-family="&quot;Liberation Sans&quot;, sans-serif" font-size="4.8" text-anchor="middle" fill="#505050"  stroke="#505050" stroke-width="0.055999999999999994">0.2</text>
<text transform="translate(75.86 243.4) rotate(0.2) scale(1.070 1)" font-family="&quot;Liberation Sans&quot;, sans-serif" font-size="4.8" text-anchor="middle" fill="#505050"  stroke="#505050" stroke-width="0.055999999999999994">0.4</text>
<text transform="translate(99.29 243.4) rotate(0.2) scale(1.070 1)" font-family="&quot;Liberation Sans&quot;, sans-serif" font-size="4.8" text-anchor="middle" fill="#505050"  stroke="#505050" stroke-width="0.055999999999999994">0.6</text>
<text transform="translate(122.72 243.4) rotate(0.2) scale(1.070 1)" font-family="&quot;Liberation Sans&quot;, sans-serif" font-size="4.8" text-anchor="middle" fill="#505050"  stroke="#505050" stroke-width="0.055999999999999994">0.8</text>
<text transform="translate(146.15 243.4) rotate(0.2) scale(1.070 1)" font-family="&quot;Liberation Sans&quot;, sans-serif" font-size="4.8" text-anchor="middle" fill="#505050"  stroke="#505050" stroke-width="0.055999999999999994">1</text>
<text transform="translate(169.58 243.4) rotate(0.2) scale(1.070 1)" font-family="&quot;Liberation Sans&quot;, sans-serif" font-size="4.8" text-anchor="middle" fill="#505050"  stroke="#505050" stroke-width="0.055999999999999994">1.2</text>
<text transform="translate(193.01 243.4) rotate(0.2) scale(1.070 1)" font-family="&quot;Liberation Sans&quot;, sans-serif" font-size="4.8" text-anchor="middle" fill="#505050"  stroke="#505050" stroke-width="0.055999999999999994">1.4</text>
<text transform="translate(216.44 243.4) rotate(0.2) scale(1.070 1)" font-family="&quot;Liberation Sans&quot;, sans-serif" font-size="4.8" text-anchor="middle" fill="#505050"  stroke="#505050" stroke-width="0.055999999999999994">1.6</text>
<text transform="translate(239.87 243.4) rotate(0.2) scale(1.070 1)" font-family="&quot;Liberation Sans&quot;, sans-serif" font-size="4.8" text-anchor="middle" fill="#505050"  stroke="#505050" stroke-width="0.055999999999999994">1.8</text>
<text transform="translate(263.3 243.4) rotate(0.2) scale(1.070 1)" font-family="&quot;Liberation Sans&quot;, sans-serif" font-size="4.8" text-anchor="middle" fill="#505050"  stroke="#505050" stroke-width="0.055999999999999994">2</text>
<text transform="translate(27.8 229.05) rotate(0.2) scale(1.070 1)" font-family="&quot;Liberation Sans&quot;, sans-serif" font-size="4.8" text-anchor="end" fill="#505050"  stroke="#505050" stroke-width="0.055999999999999994">0.5</text>
<text transform="translate(27.8 218.8) rotate(0.2) scale(1.070 1)" font-family="&quot;Liberation Sans&quot;, sans-serif" font-size="4.8" text-anchor="end" fill="#505050"  stroke="#505050" stroke-width="0.055999999999999994">1</text>
<text transform="translate(145.5 251.8) rotate(0.2) scale(1.040 1)" font-family="&quot;Liberation Sans&quot;, sans-serif" font-size="5.5" text-anchor="middle" fill="#3a3a3a"  stroke="#3a3a3a" stroke-width="0.08">time (sec)</text>
<text transform="translate(19 228.4) rotate(-89.8)" font-family="&quot;Liberation Sans&quot;, sans-serif" font-size="5.7" text-anchor="middle" fill="#3a3a3a"  stroke="#3a3a3a" stroke-width="0.08">Amplitude</text>
<line x1="29.23" y1="237.8" x2="29.23" y2="217.3" stroke="#0072bd" stroke-width="1.4" />
<line x1="29.82" y1="237.8" x2="29.82" y2="234.73" stroke="#0072bd" stroke-width="1.4" />
<line x1="31.34" y1="237.8" x2="31.34" y2="230.83" stroke="#0072bd" stroke-width="1.4" />
<line x1="37.79" y1="237.8" x2="37.79" y2="226.53" stroke="#0072bd" stroke-width="1.4" />
<line x1="72.35" y1="237.8" x2="72.35" y2="221.81" stroke="#0072bd" stroke-width="1.4" />
<line x1="74.1" y1="237.8" x2="74.1" y2="235.75" stroke="#0072bd" stroke-width="1.4" />
<line x1="132.68" y1="237.8" x2="132.68" y2="230.62" stroke="#0072bd" stroke-width="1.4" />
<ellipse cx="29.23" cy="217.3" rx="1.75" ry="1.6" fill="none" stroke="#0072bd" stroke-width="1.5"/>
<ellipse cx="29.23" cy="221.81" rx="1.75" ry="1.6" fill="none" stroke="#0072bd" stroke-width="1.5"/>
<ellipse cx="29.82" cy="234.73" rx="1.75" ry="1.6" fill="none" stroke="#0072bd" stroke-width="1.5"/>
<ellipse cx="31.34" cy="230.83" rx="1.75" ry="1.6" fill="none" stroke="#0072bd" stroke-width="1.5"/>
<ellipse cx="31.34" cy="234.73" rx="1.75" ry="1.6" fill="none" stroke="#0072bd" stroke-width="1.5"/>
<ellipse cx="37.79" cy="226.53" rx="1.75" ry="1.6" fill="none" stroke="#0072bd" stroke-width="1.5"/>
<ellipse cx="37.79" cy="235.34" rx="1.75" ry="1.6" fill="none" stroke="#0072bd" stroke-width="1.5"/>
<ellipse cx="72.35" cy="221.81" rx="1.75" ry="1.6" fill="none" stroke="#0072bd" stroke-width="1.5"/>
<ellipse cx="72.35" cy="224.27" rx="1.75" ry="1.6" fill="none" stroke="#0072bd" stroke-width="1.5"/>
<ellipse cx="74.1" cy="235.75" rx="1.75" ry="1.6" fill="none" stroke="#0072bd" stroke-width="1.5"/>
<ellipse cx="132.68" cy="230.62" rx="1.75" ry="1.6" fill="none" stroke="#0072bd" stroke-width="1.5"/>
<ellipse cx="132.68" cy="235.34" rx="1.75" ry="1.6" fill="none" stroke="#0072bd" stroke-width="1.5"/>
<path d="M38.82 258.4L38.82 392.7M48.14 258.4L48.14 392.7M57.46 258.4L57.46 392.7M66.78 258.4L66.78 392.7M85.42 258.4L85.42 392.7M94.74 258.4L94.74 392.7M104.06 258.4L104.06 392.7M113.38 258.4L113.38 392.7M132.02 258.4L132.02 392.7M141.34 258.4L141.34 392.7M150.66 258.4L150.66 392.7M159.98 258.4L159.98 392.7M178.62 258.4L178.62 392.7M187.94 258.4L187.94 392.7M197.26 258.4L197.26 392.7M206.58 258.4L206.58 392.7M225.22 258.4L225.22 392.7M234.54 258.4L234.54 392.7M243.86 258.4L243.86 392.7M253.18 258.4L253.18 392.7M29.5 277.17L262.5 277.17M29.5 272.44L262.5 272.44M29.5 269.09L262.5 269.09M29.5 266.49L262.5 266.49M29.5 264.36L262.5 264.36M29.5 262.56L262.5 262.56M29.5 261L262.5 261M29.5 259.63L262.5 259.63M29.5 304.03L262.5 304.03M29.5 299.3L262.5 299.3M29.5 295.95L262.5 295.95M29.5 293.35L262.5 293.35M29.5 291.22L262.5 291.22M29.5 289.42L262.5 289.42M29.5 287.86L262.5 287.86M29.5 286.49L262.5 286.49M29.5 330.89L262.5 330.89M29.5 326.16L262.5 326.16M29.5 322.81L262.5 322.81M29.5 320.21L262.5 320.21M29.5 318.08L262.5 318.08M29.5 316.28L262.5 316.28M29.5 314.72L262.5 314.72M29.5 313.35L262.5 313.35M29.5 357.75L262.5 357.75M29.5 353.02L262.5 353.02M29.5 349.67L262.5 349.67M29.5 347.07L262.5 347.07M29.5 344.94L262.5 344.94M29.5 343.14L262.5 343.14M29.5 341.58L262.5 341.58M29.5 340.21L262.5 340.21M29.5 384.61L262.5 384.61M29.5 379.88L262.5 379.88M29.5 376.53L262.5 376.53M29.5 373.93L262.5 373.93M29.5 371.8L262.5 371.8M29.5 370L262.5 370M29.5 368.44L262.5 368.44M29.5 367.07L262.5 367.07" stroke="#eeeeee" stroke-width="0.5" fill="none" stroke-dasharray="1.2 0.6"/>
<path d="M76.1 258.4L76.1 392.7M122.7 258.4L122.7 392.7M169.3 258.4L169.3 392.7M215.9 258.4L215.9 392.7M29.5 285.26L262.5 285.26M29.5 312.12L262.5 312.12M29.5 338.98L262.5 338.98M29.5 365.84L262.5 365.84" stroke="#ebebeb" stroke-width="0.6" fill="none" />
<path d="M29.5 258.4L262.5 258.4M262.5 258.4L262.5 392.7" stroke="#a8a8a8" stroke-width="0.9" fill="none" />
<path d="M29.05 392.7L262.95 392.7M29.5 257.95L29.5 392.7" stroke="#8c8c8c" stroke-width="0.9" fill="none" />
<path d="M29.5 392.7L29.5 390.5M29.5 258.4L29.5 260.6M76.1 392.7L76.1 390.5M76.1 258.4L76.1 260.6M122.7 392.7L122.7 390.5M122.7 258.4L122.7 260.6M169.3 392.7L169.3 390.5M169.3 258.4L169.3 260.6M215.9 392.7L215.9 390.5M215.9 258.4L215.9 260.6M262.5 392.7L262.5 390.5M262.5 258.4L262.5 260.6M29.5 258.4L31.7 258.4M262.5 258.4L260.3 258.4M29.5 285.26L31.7 285.26M262.5 285.26L260.3 285.26M29.5 312.12L31.7 312.12M262.5 312.12L260.3 312.12M29.5 338.98L31.7 338.98M262.5 338.98L260.3 338.98M29.5 365.84L31.7 365.84M262.5 365.84L260.3 365.84M29.5 392.7L31.7 392.7M262.5 392.7L260.3 392.7" stroke="#666" stroke-width="0.8" fill="none" />
<path d="M29.5 277.17L30.7 277.17M262.5 277.17L261.3 277.17M29.5 272.44L30.7 272.44M262.5 272.44L261.3 272.44M29.5 269.09L30.7 269.09M262.5 269.09L261.3 269.09M29.5 266.49L30.7 266.49M262.5 266.49L261.3 266.49M29.5 264.36L30.7 264.36M262.5 264.36L261.3 264.36M29.5 262.56L30.7 262.56M262.5 262.56L261.3 262.56M29.5 261L30.7 261M262.5 261L261.3 261M29.5 259.63L30.7 259.63M262.5 259.63L261.3 259.63M29.5 304.03L30.7 304.03M262.5 304.03L261.3 304.03M29.5 299.3L30.7 299.3M262.5 299.3L261.3 299.3M29.5 295.95L30.7 295.95M262.5 295.95L261.3 295.95M29.5 293.35L30.7 293.35M262.5 293.35L261.3 293.35M29.5 291.22L30.7 291.22M262.5 291.22L261.3 291.22M29.5 289.42L30.7 289.42M262.5 289.42L261.3 289.42M29.5 287.86L30.7 287.86M262.5 287.86L261.3 287.86M29.5 286.49L30.7 286.49M262.5 286.49L261.3 286.49M29.5 330.89L30.7 330.89M262.5 330.89L261.3 330.89M29.5 326.16L30.7 326.16M262.5 326.16L261.3 326.16M29.5 322.81L30.7 322.81M262.5 322.81L261.3 322.81M29.5 320.21L30.7 320.21M262.5 320.21L261.3 320.21M29.5 318.08L30.7 318.08M262.5 318.08L261.3 318.08M29.5 316.28L30.7 316.28M262.5 316.28L261.3 316.28M29.5 314.72L30.7 314.72M262.5 314.72L261.3 314.72M29.5 313.35L30.7 313.35M262.5 313.35L261.3 313.35M29.5 357.75L30.7 357.75M262.5 357.75L261.3 357.75M29.5 353.02L30.7 353.02M262.5 353.02L261.3 353.02M29.5 349.67L30.7 349.67M262.5 349.67L261.3 349.67M29.5 347.07L30.7 347.07M262.5 347.07L261.3 347.07M29.5 344.94L30.7 344.94M262.5 344.94L261.3 344.94M29.5 343.14L30.7 343.14M262.5 343.14L261.3 343.14M29.5 341.58L30.7 341.58M262.5 341.58L261.3 341.58M29.5 340.21L30.7 340.21M262.5 340.21L261.3 340.21M29.5 384.61L30.7 384.61M262.5 384.61L261.3 384.61M29.5 379.88L30.7 379.88M262.5 379.88L261.3 379.88M29.5 376.53L30.7 376.53M262.5 376.53L261.3 376.53M29.5 373.93L30.7 373.93M262.5 373.93L261.3 373.93M29.5 371.8L30.7 371.8M262.5 371.8L261.3 371.8M29.5 370L30.7 370M262.5 370L261.3 370M29.5 368.44L30.7 368.44M262.5 368.44L261.3 368.44M29.5 367.07L30.7 367.07M262.5 367.07L261.3 367.07" stroke="#777" stroke-width="0.6" fill="none" />
<rect x="23.25" y="400.65" width="4.3" height="0.7" fill="#222"/>
<text transform="translate(27.85 403.1) rotate(0.2) scale(1.060 1)" font-family="&quot;Liberation Serif&quot;, serif" font-size="6.8" text-anchor="start" fill="#222"  stroke="#222" stroke-width="0.1">10</text>
<rect x="71.65" y="400.65" width="4.3" height="0.7" fill="#222"/>
<text transform="translate(76.25 403.1) rotate(0.2) scale(1.060 1)" font-family="&quot;Liberation Serif&quot;, serif" font-size="6.8" text-anchor="start" fill="#222"  stroke="#222" stroke-width="0.1">5</text>
<text transform="translate(122.7 403.1) rotate(0.2) scale(1.060 1)" font-family="&quot;Liberation Serif&quot;, serif" font-size="6.8" text-anchor="middle" fill="#222"  stroke="#222" stroke-width="0.1">0</text>
<text transform="translate(169.3 403.1) rotate(0.2) scale(1.060 1)" font-family="&quot;Liberation Serif&quot;, serif" font-size="6.8" text-anchor="middle" fill="#222"  stroke="#222" stroke-width="0.1">5</text>
<text transform="translate(215.9 403.1) rotate(0.2) scale(1.060 1)" font-family="&quot;Liberation Serif&quot;, serif" font-size="6.8" text-anchor="middle" fill="#222"  stroke="#222" stroke-width="0.1">10</text>
<text transform="translate(262.5 403.1) rotate(0.2) scale(1.060 1)" font-family="&quot;Liberation Serif&quot;, serif" font-size="6.8" text-anchor="middle" fill="#222"  stroke="#222" stroke-width="0.1">15</text>
<text transform="translate(21.6 263.5) rotate(0.2) scale(1.020 1)" font-family="&quot;Liberation Serif&quot;, serif" font-size="7.0" text-anchor="end" fill="#222"  stroke="#222" stroke-width="0.1">10</text>
<text transform="translate(22.1 260.6) rotate(0.2) scale(1.020 1)" font-family="&quot;Liberation Serif&quot;, serif" font-size="5.0" text-anchor="start" fill="#222"  stroke="#222" stroke-width="0.08000000000000002">1</text>
<text transform="translate(21.6 290.36) rotate(0.2) scale(1.020 1)" font-family="&quot;Liberation Serif&quot;, serif" font-size="7.0" text-anchor="end" fill="#222"  stroke="#222" stroke-width="0.1">10</text>
<text transform="translate(22.1 287.46) rotate(0.2) scale(1.020 1)" font-family="&quot;Liberation Serif&quot;, serif" font-size="5.0" text-anchor="start" fill="#222"  stroke="#222" stroke-width="0.08000000000000002">0</text>
<text transform="translate(19.3 317.82) rotate(0.2) scale(1.020 1)" font-family="&quot;Liberation Serif&quot;, serif" font-size="7.0" text-anchor="end" fill="#222"  stroke="#222" stroke-width="0.1">10</text>
<rect x="20.5" y="312.57" width="2.4" height="0.6" fill="#333"/>
<text transform="translate(23.8 314.32) rotate(0.2) scale(1.020 1)" font-family="&quot;Liberation Serif&quot;, serif" font-size="5.0" text-anchor="start" fill="#222"  stroke="#222" stroke-width="0.08000000000000002">1</text>
<text transform="translate(19.3 344.68) rotate(0.2) scale(1.020 1)" font-family="&quot;Liberation Serif&quot;, serif" font-size="7.0" text-anchor="end" fill="#222"  stroke="#222" stroke-width="0.1">10</text>
<rect x="20.5" y="339.43" width="2.4" height="0.6" fill="#333"/>
<text transform="translate(23.8 341.18) rotate(0.2) scale(1.020 1)" font-family="&quot;Liberation Serif&quot;, serif" font-size="5.0" text-anchor="start" fill="#222"  stroke="#222" stroke-width="0.08000000000000002">2</text>
<text transform="translate(19.3 371.54) rotate(0.2) scale(1.020 1)" font-family="&quot;Liberation Serif&quot;, serif" font-size="7.0" text-anchor="end" fill="#222"  stroke="#222" stroke-width="0.1">10</text>
<rect x="20.5" y="366.29" width="2.4" height="0.6" fill="#333"/>
<text transform="translate(23.8 368.04) rotate(0.2) scale(1.020 1)" font-family="&quot;Liberation Serif&quot;, serif" font-size="5.0" text-anchor="start" fill="#222"  stroke="#222" stroke-width="0.08000000000000002">3</text>
<text transform="translate(19.3 398.4) rotate(0.2) scale(1.020 1)" font-family="&quot;Liberation Serif&quot;, serif" font-size="7.0" text-anchor="end" fill="#222"  stroke="#222" stroke-width="0.1">10</text>
<rect x="20.5" y="393.15" width="2.4" height="0.6" fill="#333"/>
<text transform="translate(23.8 394.9) rotate(0.2) scale(1.020 1)" font-family="&quot;Liberation Serif&quot;, serif" font-size="5.0" text-anchor="start" fill="#222"  stroke="#222" stroke-width="0.08000000000000002">4</text>
<text transform="translate(146.1 411.8) rotate(0.2) scale(1.070 1)" font-family="&quot;Liberation Sans&quot;, sans-serif" font-size="6.6" text-anchor="middle" fill="#333"  stroke="#333" stroke-width="0.08">SNR (dB)</text>
<text transform="translate(9.6 326.1) rotate(-89.8)" font-family="&quot;Liberation Sans&quot;, sans-serif" font-size="6.6" text-anchor="middle" fill="#333"  stroke="#333" stroke-width="0.08">BER</text>
<clipPath id="c2"><rect x="29.5" y="258.4" width="233" height="134.3"/></clipPath>
<polyline points="29.5,306.1 58.1,325 87.2,343.2 101.9,351 122.3,361.3 170,366.6 216.6,371.5 262.5,371.8" fill="none" stroke="#ff5050" stroke-width="1.2" stroke-linejoin="round" stroke-dasharray="4.4 3.1" clip-path="url(#c2)"/>
<polyline points="29.5,302.2 50.8,314.1 72.6,327.2 91.5,331.3 109,335.9 122.3,340.8 170,347.3 262.5,353.7" fill="none" stroke="#5858ff" stroke-width="1.2" stroke-linejoin="round" stroke-dasharray="4.4 3.1" clip-path="url(#c2)"/>
<polyline points="29.5,296.9 51.5,301.3 59.5,306.1 75.5,315.5 93.7,331.3 109,335.9 122.3,340.5 170,352.5 187.3,356.3 216.6,358.3 262.5,360.1" fill="none" stroke="#ff5050" stroke-width="1.2" stroke-linejoin="round" clip-path="url(#c2)"/>
<polyline points="29.5,302.2 37.7,302.7 58.1,305.4 78.5,311.9 100,320 122.3,331.2 170.5,342.3 187.3,344.7 262.5,350.2" fill="none" stroke="#5858ff" stroke-width="1.2" stroke-linejoin="round" clip-path="url(#c2)"/>
<rect x="176.5" y="257.5" width="85.3" height="39.2" fill="#fff" stroke="#2a2a2a" stroke-width="0.9"/>
<line x1="182.2" y1="263.2" x2="201.5" y2="263.2" stroke="#ff5050" stroke-width="1.2" />
<text transform="translate(203.5 265.7) rotate(0.2) scale(1.140 1)" font-family="&quot;Liberation Sans&quot;, sans-serif" font-size="5.2" text-anchor="start" fill="#111"  stroke="#111" stroke-width="0.15">Proposed (<tspan font-family="&quot;Liberation Serif&quot;, serif" font-style="italic">T</tspan><tspan font-family="&quot;Liberation Serif&quot;, serif" font-style="italic" font-size="3.64" dy="0.9">c</tspan><tspan dy="-0.9">:</tspan><tspan dx="1.6">40 ms)</tspan></text>
<line x1="182.2" y1="272.2" x2="201.5" y2="272.2" stroke="#ff5050" stroke-width="1.2" stroke-dasharray="5.6 2.2"/>
<text transform="translate(203.5 274.7) rotate(0.2) scale(1.140 1)" font-family="&quot;Liberation Sans&quot;, sans-serif" font-size="5.2" text-anchor="start" fill="#111"  stroke="#111" stroke-width="0.15">Proposed (<tspan font-family="&quot;Liberation Serif&quot;, serif" font-style="italic">T</tspan><tspan font-family="&quot;Liberation Serif&quot;, serif" font-style="italic" font-size="3.64" dy="0.9">c</tspan><tspan dy="-0.9">:</tspan><tspan dx="2.4000000000000004">80 ms)</tspan></text>
<line x1="182.2" y1="281.2" x2="201.5" y2="281.2" stroke="#5858ff" stroke-width="1.2" />
<text transform="translate(203.5 283.7) rotate(0.2) scale(1.140 1)" font-family="&quot;Liberation Sans&quot;, sans-serif" font-size="5.2" text-anchor="start" fill="#111"  stroke="#111" stroke-width="0.15">FSK (<tspan font-family="&quot;Liberation Serif&quot;, serif" font-style="italic">T</tspan><tspan font-family="&quot;Liberation Serif&quot;, serif" font-style="italic" font-size="3.64" dy="0.9">c</tspan><tspan dy="-0.9">:</tspan><tspan dx="1.6">20 ms)</tspan></text>
<line x1="182.2" y1="289.9" x2="201.5" y2="289.9" stroke="#5858ff" stroke-width="1.2" stroke-dasharray="5.6 2.2"/>
<text transform="translate(203.5 292.4) rotate(0.2) scale(1.140 1)" font-family="&quot;Liberation Sans&quot;, sans-serif" font-size="5.2" text-anchor="start" fill="#111"  stroke="#111" stroke-width="0.15">FSK (<tspan font-family="&quot;Liberation Serif&quot;, serif" font-style="italic">T</tspan><tspan font-family="&quot;Liberation Serif&quot;, serif" font-style="italic" font-size="3.64" dy="0.9">c</tspan><tspan dy="-0.9">:</tspan><tspan dx="1.6">40 ms)</tspan></text>
<text transform="translate(139 425.8) rotate(0.2) scale(0.900 1)" font-family="&quot;Liberation Serif&quot;, serif" font-size="12.5" text-anchor="middle" fill="#111" font-weight="bold" stroke="#111" stroke-width="0.2">(c)</text>
<path d="M321.71 219.5L321.71 239.7M326.22 219.5L326.22 239.7M330.73 219.5L330.73 239.7M335.24 219.5L335.24 239.7M344.26 219.5L344.26 239.7M348.77 219.5L348.77 239.7M353.28 219.5L353.28 239.7M357.79 219.5L357.79 239.7M366.81 219.5L366.81 239.7M371.32 219.5L371.32 239.7M375.83 219.5L375.83 239.7M380.34 219.5L380.34 239.7M389.36 219.5L389.36 239.7M393.87 219.5L393.87 239.7M398.38 219.5L398.38 239.7M402.89 219.5L402.89 239.7M411.91 219.5L411.91 239.7M416.42 219.5L416.42 239.7M420.93 219.5L420.93 239.7M425.44 219.5L425.44 239.7M434.46 219.5L434.46 239.7M438.97 219.5L438.97 239.7M443.48 219.5L443.48 239.7M447.99 219.5L447.99 239.7M457.01 219.5L457.01 239.7M461.52 219.5L461.52 239.7M466.03 219.5L466.03 239.7M470.54 219.5L470.54 239.7M479.56 219.5L479.56 239.7M484.07 219.5L484.07 239.7M488.58 219.5L488.58 239.7M493.09 219.5L493.09 239.7M502.11 219.5L502.11 239.7M506.62 219.5L506.62 239.7M511.13 219.5L511.13 239.7M515.64 219.5L515.64 239.7M524.66 219.5L524.66 239.7M529.17 219.5L529.17 239.7M533.68 219.5L533.68 239.7M538.19 219.5L538.19 239.7M317.2 237.68L542.7 237.68M317.2 235.66L542.7 235.66M317.2 233.64L542.7 233.64M317.2 231.62L542.7 231.62M317.2 227.58L542.7 227.58M317.2 225.56L542.7 225.56M317.2 223.54L542.7 223.54M317.2 221.52L542.7 221.52" stroke="#f0f0f0" stroke-width="0.5" fill="none" stroke-dasharray="1.2 0.6"/>
<path d="M339.75 219.5L339.75 239.7M362.3 219.5L362.3 239.7M384.85 219.5L384.85 239.7M407.4 219.5L407.4 239.7M429.95 219.5L429.95 239.7M452.5 219.5L452.5 239.7M475.05 219.5L475.05 239.7M497.6 219.5L497.6 239.7M520.15 219.5L520.15 239.7M317.2 229.6L542.7 229.6" stroke="#e8e8e8" stroke-width="0.6" fill="none" />
<rect x="317.2" y="219.5" width="225.5" height="20.2" fill="none" stroke="#b4b4b4" stroke-width="0.9"/>
<path d="M317.2 239.7L317.2 238.1M317.2 219.5L317.2 221.1M339.75 239.7L339.75 238.1M339.75 219.5L339.75 221.1M362.3 239.7L362.3 238.1M362.3 219.5L362.3 221.1M384.85 239.7L384.85 238.1M384.85 219.5L384.85 221.1M407.4 239.7L407.4 238.1M407.4 219.5L407.4 221.1M429.95 239.7L429.95 238.1M429.95 219.5L429.95 221.1M452.5 239.7L452.5 238.1M452.5 219.5L452.5 221.1M475.05 239.7L475.05 238.1M475.05 219.5L475.05 221.1M497.6 239.7L497.6 238.1M497.6 219.5L497.6 221.1M520.15 239.7L520.15 238.1M520.15 219.5L520.15 221.1M542.7 239.7L542.7 238.1M542.7 219.5L542.7 221.1M317.2 239.7L318.8 239.7M542.7 239.7L541.1 239.7M317.2 229.6L318.8 229.6M542.7 229.6L541.1 229.6M317.2 219.5L318.8 219.5M542.7 219.5L541.1 219.5" stroke="#888" stroke-width="0.8" fill="none" />
<text transform="translate(317.2 244.7) rotate(0.2) scale(1.070 1)" font-family="&quot;Liberation Sans&quot;, sans-serif" font-size="4.8" text-anchor="middle" fill="#505050"  stroke="#505050" stroke-width="0.055999999999999994">0</text>
<text transform="translate(339.75 244.7) rotate(0.2) scale(1.070 1)" font-family="&quot;Liberation Sans&quot;, sans-serif" font-size="4.8" text-anchor="middle" fill="#505050"  stroke="#505050" stroke-width="0.055999999999999994">0.2</text>
<text transform="translate(362.3 244.7) rotate(0.2) scale(1.070 1)" font-family="&quot;Liberation Sans&quot;, sans-serif" font-size="4.8" text-anchor="middle" fill="#505050"  stroke="#505050" stroke-width="0.055999999999999994">0.4</text>
<text transform="translate(384.85 244.7) rotate(0.2) scale(1.070 1)" font-family="&quot;Liberation Sans&quot;, sans-serif" font-size="4.8" text-anchor="middle" fill="#505050"  stroke="#505050" stroke-width="0.055999999999999994">0.6</text>
<text transform="translate(407.4 244.7) rotate(0.2) scale(1.070 1)" font-family="&quot;Liberation Sans&quot;, sans-serif" font-size="4.8" text-anchor="middle" fill="#505050"  stroke="#505050" stroke-width="0.055999999999999994">0.8</text>
<text transform="translate(429.95 244.7) rotate(0.2) scale(1.070 1)" font-family="&quot;Liberation Sans&quot;, sans-serif" font-size="4.8" text-anchor="middle" fill="#505050"  stroke="#505050" stroke-width="0.055999999999999994">1</text>
<text transform="translate(452.5 244.7) rotate(0.2) scale(1.070 1)" font-family="&quot;Liberation Sans&quot;, sans-serif" font-size="4.8" text-anchor="middle" fill="#505050"  stroke="#505050" stroke-width="0.055999999999999994">1.2</text>
<text transform="translate(475.05 244.7) rotate(0.2) scale(1.070 1)" font-family="&quot;Liberation Sans&quot;, sans-serif" font-size="4.8" text-anchor="middle" fill="#505050"  stroke="#505050" stroke-width="0.055999999999999994">1.4</text>
<text transform="translate(497.6 244.7) rotate(0.2) scale(1.070 1)" font-family="&quot;Liberation Sans&quot;, sans-serif" font-size="4.8" text-anchor="middle" fill="#505050"  stroke="#505050" stroke-width="0.055999999999999994">1.6</text>
<text transform="translate(520.15 244.7) rotate(0.2) scale(1.070 1)" font-family="&quot;Liberation Sans&quot;, sans-serif" font-size="4.8" text-anchor="middle" fill="#505050"  stroke="#505050" stroke-width="0.055999999999999994">1.8</text>
<text transform="translate(542.7 244.7) rotate(0.2) scale(1.070 1)" font-family="&quot;Liberation Sans&quot;, sans-serif" font-size="4.8" text-anchor="middle" fill="#505050"  stroke="#505050" stroke-width="0.055999999999999994">2</text>
<text transform="translate(316 231.1) rotate(0.2) scale(1.070 1)" font-family="&quot;Liberation Sans&quot;, sans-serif" font-size="4.8" text-anchor="end" fill="#505050"  stroke="#505050" stroke-width="0.055999999999999994">0.5</text>
<text transform="translate(316 221) rotate(0.2) scale(1.070 1)" font-family="&quot;Liberation Sans&quot;, sans-serif" font-size="4.8" text-anchor="end" fill="#505050"  stroke="#505050" stroke-width="0.055999999999999994">1</text>
<text transform="translate(429.5 253.3) rotate(0.2) scale(1.040 1)" font-family="&quot;Liberation Sans&quot;, sans-serif" font-size="5.5" text-anchor="middle" fill="#3a3a3a"  stroke="#3a3a3a" stroke-width="0.08">time (sec)</text>
<text transform="translate(306.6 229.4) rotate(-89.8)" font-family="&quot;Liberation Sans&quot;, sans-serif" font-size="5.4" text-anchor="middle" fill="#3a3a3a"  stroke="#3a3a3a" stroke-width="0.08">Amplitude</text>
<line x1="317.2" y1="239.7" x2="317.2" y2="219.5" stroke="#0072bd" stroke-width="1.4" />
<line x1="319.45" y1="239.7" x2="319.45" y2="233.24" stroke="#0072bd" stroke-width="1.4" />
<line x1="328.47" y1="239.7" x2="328.47" y2="233.03" stroke="#0072bd" stroke-width="1.4" />
<line x1="384.51" y1="239.7" x2="384.51" y2="224.75" stroke="#0072bd" stroke-width="1.4" />
<line x1="386.2" y1="239.7" x2="386.2" y2="232.63" stroke="#0072bd" stroke-width="1.4" />
<line x1="428.26" y1="239.7" x2="428.26" y2="233.24" stroke="#0072bd" stroke-width="1.4" />
<line x1="473.92" y1="239.7" x2="473.92" y2="227.58" stroke="#0072bd" stroke-width="1.4" />
<ellipse cx="317.2" cy="219.5" rx="1.75" ry="1.6" fill="none" stroke="#0072bd" stroke-width="1.5"/>
<ellipse cx="317.2" cy="223.54" rx="1.75" ry="1.6" fill="none" stroke="#0072bd" stroke-width="1.5"/>
<ellipse cx="319.45" cy="233.24" rx="1.75" ry="1.6" fill="none" stroke="#0072bd" stroke-width="1.5"/>
<ellipse cx="319.45" cy="236.67" rx="1.75" ry="1.6" fill="none" stroke="#0072bd" stroke-width="1.5"/>
<ellipse cx="328.47" cy="233.03" rx="1.75" ry="1.6" fill="none" stroke="#0072bd" stroke-width="1.5"/>
<ellipse cx="328.47" cy="236.47" rx="1.75" ry="1.6" fill="none" stroke="#0072bd" stroke-width="1.5"/>
<ellipse cx="384.51" cy="224.75" rx="1.75" ry="1.6" fill="none" stroke="#0072bd" stroke-width="1.5"/>
<ellipse cx="384.51" cy="228.39" rx="1.75" ry="1.6" fill="none" stroke="#0072bd" stroke-width="1.5"/>
<ellipse cx="386.2" cy="232.63" rx="1.75" ry="1.6" fill="none" stroke="#0072bd" stroke-width="1.5"/>
<ellipse cx="428.26" cy="233.24" rx="1.75" ry="1.6" fill="none" stroke="#0072bd" stroke-width="1.5"/>
<ellipse cx="428.26" cy="236.87" rx="1.75" ry="1.6" fill="none" stroke="#0072bd" stroke-width="1.5"/>
<ellipse cx="473.92" cy="227.58" rx="1.75" ry="1.6" fill="none" stroke="#0072bd" stroke-width="1.5"/>
<ellipse cx="473.92" cy="233.84" rx="1.75" ry="1.6" fill="none" stroke="#0072bd" stroke-width="1.5"/>
<ellipse cx="473.92" cy="237.68" rx="1.75" ry="1.6" fill="none" stroke="#0072bd" stroke-width="1.5"/>
<path d="M325.64 259.8L325.64 390.8M334.68 259.8L334.68 390.8M343.72 259.8L343.72 390.8M352.76 259.8L352.76 390.8M370.84 259.8L370.84 390.8M379.88 259.8L379.88 390.8M388.92 259.8L388.92 390.8M397.96 259.8L397.96 390.8M416.04 259.8L416.04 390.8M425.08 259.8L425.08 390.8M434.12 259.8L434.12 390.8M443.16 259.8L443.16 390.8M461.24 259.8L461.24 390.8M470.28 259.8L470.28 390.8M479.32 259.8L479.32 390.8M488.36 259.8L488.36 390.8M506.44 259.8L506.44 390.8M515.48 259.8L515.48 390.8M524.52 259.8L524.52 390.8M533.56 259.8L533.56 390.8M316.6 278.11L542.6 278.11M316.6 273.5L542.6 273.5M316.6 270.23L542.6 270.23M316.6 267.69L542.6 267.69M316.6 265.61L542.6 265.61M316.6 263.86L542.6 263.86M316.6 262.34L542.6 262.34M316.6 261L542.6 261M316.6 304.31L542.6 304.31M316.6 299.7L542.6 299.7M316.6 296.43L542.6 296.43M316.6 293.89L542.6 293.89M316.6 291.81L542.6 291.81M316.6 290.06L542.6 290.06M316.6 288.54L542.6 288.54M316.6 287.2L542.6 287.2M316.6 330.51L542.6 330.51M316.6 325.9L542.6 325.9M316.6 322.63L542.6 322.63M316.6 320.09L542.6 320.09M316.6 318.01L542.6 318.01M316.6 316.26L542.6 316.26M316.6 314.74L542.6 314.74M316.6 313.4L542.6 313.4M316.6 356.71L542.6 356.71M316.6 352.1L542.6 352.1M316.6 348.83L542.6 348.83M316.6 346.29L542.6 346.29M316.6 344.21L542.6 344.21M316.6 342.46L542.6 342.46M316.6 340.94L542.6 340.94M316.6 339.6L542.6 339.6M316.6 382.91L542.6 382.91M316.6 378.3L542.6 378.3M316.6 375.03L542.6 375.03M316.6 372.49L542.6 372.49M316.6 370.41L542.6 370.41M316.6 368.66L542.6 368.66M316.6 367.14L542.6 367.14M316.6 365.8L542.6 365.8" stroke="#eeeeee" stroke-width="0.5" fill="none" stroke-dasharray="1.2 0.6"/>
<path d="M361.8 259.8L361.8 390.8M407 259.8L407 390.8M452.2 259.8L452.2 390.8M497.4 259.8L497.4 390.8M316.6 286L542.6 286M316.6 312.2L542.6 312.2M316.6 338.4L542.6 338.4M316.6 364.6L542.6 364.6" stroke="#ebebeb" stroke-width="0.6" fill="none" />
<path d="M316.6 259.8L542.6 259.8M542.6 259.8L542.6 390.8" stroke="#a8a8a8" stroke-width="0.9" fill="none" />
<path d="M316.15 390.8L543.05 390.8M316.6 259.35L316.6 390.8" stroke="#8c8c8c" stroke-width="0.9" fill="none" />
<path d="M316.6 390.8L316.6 388.6M316.6 259.8L316.6 262M361.8 390.8L361.8 388.6M361.8 259.8L361.8 262M407 390.8L407 388.6M407 259.8L407 262M452.2 390.8L452.2 388.6M452.2 259.8L452.2 262M497.4 390.8L497.4 388.6M497.4 259.8L497.4 262M542.6 390.8L542.6 388.6M542.6 259.8L542.6 262M316.6 259.8L318.8 259.8M542.6 259.8L540.4 259.8M316.6 286L318.8 286M542.6 286L540.4 286M316.6 312.2L318.8 312.2M542.6 312.2L540.4 312.2M316.6 338.4L318.8 338.4M542.6 338.4L540.4 338.4M316.6 364.6L318.8 364.6M542.6 364.6L540.4 364.6M316.6 390.8L318.8 390.8M542.6 390.8L540.4 390.8" stroke="#666" stroke-width="0.8" fill="none" />
<path d="M316.6 278.11L317.8 278.11M542.6 278.11L541.4 278.11M316.6 273.5L317.8 273.5M542.6 273.5L541.4 273.5M316.6 270.23L317.8 270.23M542.6 270.23L541.4 270.23M316.6 267.69L317.8 267.69M542.6 267.69L541.4 267.69M316.6 265.61L317.8 265.61M542.6 265.61L541.4 265.61M316.6 263.86L317.8 263.86M542.6 263.86L541.4 263.86M316.6 262.34L317.8 262.34M542.6 262.34L541.4 262.34M316.6 261L317.8 261M542.6 261L541.4 261M316.6 304.31L317.8 304.31M542.6 304.31L541.4 304.31M316.6 299.7L317.8 299.7M542.6 299.7L541.4 299.7M316.6 296.43L317.8 296.43M542.6 296.43L541.4 296.43M316.6 293.89L317.8 293.89M542.6 293.89L541.4 293.89M316.6 291.81L317.8 291.81M542.6 291.81L541.4 291.81M316.6 290.06L317.8 290.06M542.6 290.06L541.4 290.06M316.6 288.54L317.8 288.54M542.6 288.54L541.4 288.54M316.6 287.2L317.8 287.2M542.6 287.2L541.4 287.2M316.6 330.51L317.8 330.51M542.6 330.51L541.4 330.51M316.6 325.9L317.8 325.9M542.6 325.9L541.4 325.9M316.6 322.63L317.8 322.63M542.6 322.63L541.4 322.63M316.6 320.09L317.8 320.09M542.6 320.09L541.4 320.09M316.6 318.01L317.8 318.01M542.6 318.01L541.4 318.01M316.6 316.26L317.8 316.26M542.6 316.26L541.4 316.26M316.6 314.74L317.8 314.74M542.6 314.74L541.4 314.74M316.6 313.4L317.8 313.4M542.6 313.4L541.4 313.4M316.6 356.71L317.8 356.71M542.6 356.71L541.4 356.71M316.6 352.1L317.8 352.1M542.6 352.1L541.4 352.1M316.6 348.83L317.8 348.83M542.6 348.83L541.4 348.83M316.6 346.29L317.8 346.29M542.6 346.29L541.4 346.29M316.6 344.21L317.8 344.21M542.6 344.21L541.4 344.21M316.6 342.46L317.8 342.46M542.6 342.46L541.4 342.46M316.6 340.94L317.8 340.94M542.6 340.94L541.4 340.94M316.6 339.6L317.8 339.6M542.6 339.6L541.4 339.6M316.6 382.91L317.8 382.91M542.6 382.91L541.4 382.91M316.6 378.3L317.8 378.3M542.6 378.3L541.4 378.3M316.6 375.03L317.8 375.03M542.6 375.03L541.4 375.03M316.6 372.49L317.8 372.49M542.6 372.49L541.4 372.49M316.6 370.41L317.8 370.41M542.6 370.41L541.4 370.41M316.6 368.66L317.8 368.66M542.6 368.66L541.4 368.66M316.6 367.14L317.8 367.14M542.6 367.14L541.4 367.14M316.6 365.8L317.8 365.8M542.6 365.8L541.4 365.8" stroke="#777" stroke-width="0.6" fill="none" />
<rect x="310.35" y="397.35" width="4.3" height="0.7" fill="#222"/>
<text transform="translate(314.95 399.8) rotate(0.2) scale(1.060 1)" font-family="&quot;Liberation Serif&quot;, serif" font-size="6.8" text-anchor="start" fill="#222"  stroke="#222" stroke-width="0.1">10</text>
<rect x="357.35" y="397.35" width="4.3" height="0.7" fill="#222"/>
<text transform="translate(361.95 399.8) rotate(0.2) scale(1.060 1)" font-family="&quot;Liberation Serif&quot;, serif" font-size="6.8" text-anchor="start" fill="#222"  stroke="#222" stroke-width="0.1">5</text>
<text transform="translate(407 399.8) rotate(0.2) scale(1.060 1)" font-family="&quot;Liberation Serif&quot;, serif" font-size="6.8" text-anchor="middle" fill="#222"  stroke="#222" stroke-width="0.1">0</text>
<text transform="translate(452.2 399.8) rotate(0.2) scale(1.060 1)" font-family="&quot;Liberation Serif&quot;, serif" font-size="6.8" text-anchor="middle" fill="#222"  stroke="#222" stroke-width="0.1">5</text>
<text transform="translate(497.4 399.8) rotate(0.2) scale(1.060 1)" font-family="&quot;Liberation Serif&quot;, serif" font-size="6.8" text-anchor="middle" fill="#222"  stroke="#222" stroke-width="0.1">10</text>
<text transform="translate(542.6 399.8) rotate(0.2) scale(1.060 1)" font-family="&quot;Liberation Serif&quot;, serif" font-size="6.8" text-anchor="middle" fill="#222"  stroke="#222" stroke-width="0.1">15</text>
<text transform="translate(310.1 264.6) rotate(0.2) scale(1.020 1)" font-family="&quot;Liberation Serif&quot;, serif" font-size="7.0" text-anchor="end" fill="#222"  stroke="#222" stroke-width="0.1">10</text>
<text transform="translate(310.6 261.9) rotate(0.2) scale(1.020 1)" font-family="&quot;Liberation Serif&quot;, serif" font-size="5.0" text-anchor="start" fill="#222"  stroke="#222" stroke-width="0.08000000000000002">1</text>
<text transform="translate(310.1 290.8) rotate(0.2) scale(1.020 1)" font-family="&quot;Liberation Serif&quot;, serif" font-size="7.0" text-anchor="end" fill="#222"  stroke="#222" stroke-width="0.1">10</text>
<text transform="translate(310.6 288.1) rotate(0.2) scale(1.020 1)" font-family="&quot;Liberation Serif&quot;, serif" font-size="5.0" text-anchor="start" fill="#222"  stroke="#222" stroke-width="0.08000000000000002">0</text>
<text transform="translate(307.8 317.6) rotate(0.2) scale(1.020 1)" font-family="&quot;Liberation Serif&quot;, serif" font-size="7.0" text-anchor="end" fill="#222"  stroke="#222" stroke-width="0.1">10</text>
<rect x="309" y="312.55" width="2.4" height="0.6" fill="#333"/>
<text transform="translate(312.3 314.3) rotate(0.2) scale(1.020 1)" font-family="&quot;Liberation Serif&quot;, serif" font-size="5.0" text-anchor="start" fill="#222"  stroke="#222" stroke-width="0.08000000000000002">1</text>
<text transform="translate(307.8 343.8) rotate(0.2) scale(1.020 1)" font-family="&quot;Liberation Serif&quot;, serif" font-size="7.0" text-anchor="end" fill="#222"  stroke="#222" stroke-width="0.1">10</text>
<rect x="309" y="338.75" width="2.4" height="0.6" fill="#333"/>
<text transform="translate(312.3 340.5) rotate(0.2) scale(1.020 1)" font-family="&quot;Liberation Serif&quot;, serif" font-size="5.0" text-anchor="start" fill="#222"  stroke="#222" stroke-width="0.08000000000000002">2</text>
<text transform="translate(307.8 370) rotate(0.2) scale(1.020 1)" font-family="&quot;Liberation Serif&quot;, serif" font-size="7.0" text-anchor="end" fill="#222"  stroke="#222" stroke-width="0.1">10</text>
<rect x="309" y="364.95" width="2.4" height="0.6" fill="#333"/>
<text transform="translate(312.3 366.7) rotate(0.2) scale(1.020 1)" font-family="&quot;Liberation Serif&quot;, serif" font-size="5.0" text-anchor="start" fill="#222"  stroke="#222" stroke-width="0.08000000000000002">3</text>
<text transform="translate(307.8 396.2) rotate(0.2) scale(1.020 1)" font-family="&quot;Liberation Serif&quot;, serif" font-size="7.0" text-anchor="end" fill="#222"  stroke="#222" stroke-width="0.1">10</text>
<rect x="309" y="391.15" width="2.4" height="0.6" fill="#333"/>
<text transform="translate(312.3 392.9) rotate(0.2) scale(1.020 1)" font-family="&quot;Liberation Serif&quot;, serif" font-size="5.0" text-anchor="start" fill="#222"  stroke="#222" stroke-width="0.08000000000000002">4</text>
<text transform="translate(429.75 409.8) rotate(0.2) scale(1.070 1)" font-family="&quot;Liberation Sans&quot;, sans-serif" font-size="6.6" text-anchor="middle" fill="#333"  stroke="#333" stroke-width="0.08">SNR (dB)</text>
<text transform="translate(297.8 325.6) rotate(-89.8)" font-family="&quot;Liberation Sans&quot;, sans-serif" font-size="6.6" text-anchor="middle" fill="#333"  stroke="#333" stroke-width="0.08">BER</text>
<clipPath id="c3"><rect x="316.6" y="259.8" width="226" height="131"/></clipPath>
<polyline points="316.6,296.6 359.6,322.8 390,340.5 407.5,351.5 448.2,364.1 460,365.3 542.6,366.1" fill="none" stroke="#ff5050" stroke-width="1.2" stroke-linejoin="round" stroke-dasharray="4.4 3.1" clip-path="url(#c3)"/>
<polyline points="316.6,296.6 345.1,311.2 364,320.6 374.2,322.5 390,326.7 407.5,329.6 460,339.6 497.4,343.8 542.6,344.1" fill="none" stroke="#5858ff" stroke-width="1.2" stroke-linejoin="round" stroke-dasharray="4.4 3.1" clip-path="url(#c3)"/>
<polyline points="316.6,295.9 355.3,313.4 390,328.7 407.5,336.5 460,348.2 471.4,350.6 542.6,353.1" fill="none" stroke="#ff5050" stroke-width="1.2" stroke-linejoin="round" clip-path="url(#c3)"/>
<polyline points="316.6,301.3 323.3,301.3 337.8,303.2 390,319 407.5,325.3 460,334.4 471.4,336.3 497.4,338 542.6,336.3" fill="none" stroke="#5858ff" stroke-width="1.2" stroke-linejoin="round" clip-path="url(#c3)"/>
<rect x="459.3" y="259.5" width="83.1" height="39.2" fill="#fff" stroke="#2a2a2a" stroke-width="0.9"/>
<line x1="465" y1="264.7" x2="483.8" y2="264.7" stroke="#ff5050" stroke-width="1.2" />
<text transform="translate(486 267.2) rotate(0.2) scale(1.110 1)" font-family="&quot;Liberation Sans&quot;, sans-serif" font-size="5.2" text-anchor="start" fill="#111"  stroke="#111" stroke-width="0.15">Proposed (<tspan font-family="&quot;Liberation Serif&quot;, serif" font-style="italic">T</tspan><tspan font-family="&quot;Liberation Serif&quot;, serif" font-style="italic" font-size="3.64" dy="0.9">c</tspan><tspan dy="-0.9">:</tspan><tspan dx="1.6">40 ms)</tspan></text>
<line x1="465" y1="273.9" x2="483.8" y2="273.9" stroke="#ff5050" stroke-width="1.2" stroke-dasharray="5.4 2.2"/>
<text transform="translate(486 276.4) rotate(0.2) scale(1.110 1)" font-family="&quot;Liberation Sans&quot;, sans-serif" font-size="5.2" text-anchor="start" fill="#111"  stroke="#111" stroke-width="0.15">Proposed (<tspan font-family="&quot;Liberation Serif&quot;, serif" font-style="italic">T</tspan><tspan font-family="&quot;Liberation Serif&quot;, serif" font-style="italic" font-size="3.64" dy="0.9">c</tspan><tspan dy="-0.9">:</tspan><tspan dx="2.4000000000000004">80 ms)</tspan></text>
<line x1="465" y1="282.7" x2="483.8" y2="282.7" stroke="#5858ff" stroke-width="1.2" />
<text transform="translate(486 285.2) rotate(0.2) scale(1.110 1)" font-family="&quot;Liberation Sans&quot;, sans-serif" font-size="5.2" text-anchor="start" fill="#111"  stroke="#111" stroke-width="0.15">FSK (<tspan font-family="&quot;Liberation Serif&quot;, serif" font-style="italic">T</tspan><tspan font-family="&quot;Liberation Serif&quot;, serif" font-style="italic" font-size="3.64" dy="0.9">c</tspan><tspan dy="-0.9">:</tspan><tspan dx="1.6">20 ms)</tspan></text>
<line x1="465" y1="291.4" x2="483.8" y2="291.4" stroke="#5858ff" stroke-width="1.2" stroke-dasharray="5.4 2.2"/>
<text transform="translate(486 293.9) rotate(0.2) scale(1.110 1)" font-family="&quot;Liberation Sans&quot;, sans-serif" font-size="5.2" text-anchor="start" fill="#111"  stroke="#111" stroke-width="0.15">FSK (<tspan font-family="&quot;Liberation Serif&quot;, serif" font-style="italic">T</tspan><tspan font-family="&quot;Liberation Serif&quot;, serif" font-style="italic" font-size="3.64" dy="0.9">c</tspan><tspan dy="-0.9">:</tspan><tspan dx="1.6">40 ms)</tspan></text>
<text transform="translate(423.2 425.6) rotate(0.2) scale(0.900 1)" font-family="&quot;Liberation Serif&quot;, serif" font-size="12.5" text-anchor="middle" fill="#111" font-weight="bold" stroke="#111" stroke-width="0.2">(d)</text>
</svg>
</body></html>
